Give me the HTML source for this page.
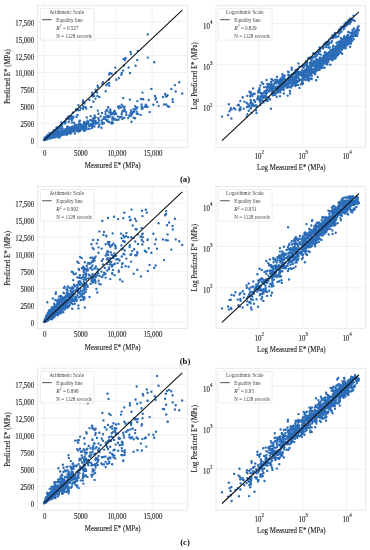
<!DOCTYPE html>
<html><head><meta charset="utf-8"><title>E* predicted vs measured</title>
<style>html,body{margin:0;padding:0;background:#fff;}svg{display:block;font-family:"Liberation Serif","Times New Roman",serif;}</style>
</head><body>
<svg width="370" height="550" viewBox="0 0 370 550">
<rect width="370" height="550" fill="#fff"/>
<path d="M43.90 5.2V147.35M79.95 5.2V147.35M116.00 5.2V147.35M152.05 5.2V147.35M37.5 140.40H187.3M37.5 123.42H187.3M37.5 106.43H187.3M37.5 89.45H187.3M37.5 72.46H187.3M37.5 55.48H187.3M37.5 38.49H187.3M37.5 21.51H187.3" stroke="#ebebeb" stroke-width="0.7" fill="none"/>
<path d="M44.0 140.0h0M182.2 93.5h0M87.4 123.2h0M46.8 138.3h0M48.5 137.3h0M109.2 112.3h0M44.1 139.8h0M96.4 90.5h0M91.4 120.3h0M55.5 137.2h0M48.6 136.0h0M48.0 135.2h0M47.4 136.9h0M54.2 134.3h0M57.7 136.0h0M61.1 133.4h0M172.8 101.9h0M90.6 125.4h0M66.9 129.1h0M164.1 104.4h0M46.6 137.7h0M45.8 139.3h0M66.0 131.8h0M44.5 139.5h0M44.4 139.7h0M58.3 135.1h0M55.4 132.3h0M122.4 119.0h0M67.6 132.9h0M58.3 135.2h0M57.2 132.7h0M47.3 135.8h0M44.1 139.7h0M46.2 138.6h0M74.7 129.7h0M46.4 137.4h0M50.8 134.1h0M44.1 139.6h0M98.4 113.8h0M45.7 138.5h0M47.7 137.1h0M111.0 112.4h0M58.0 129.0h0M102.4 123.7h0M68.7 118.6h0M81.7 127.4h0M44.9 139.3h0M60.2 133.3h0M57.9 129.4h0M108.6 121.9h0M50.5 138.1h0M64.7 121.9h0M44.6 138.8h0M51.6 134.3h0M49.2 136.7h0M45.6 137.8h0M95.4 123.7h0M51.2 136.9h0M154.2 62.2h0M64.0 133.9h0M65.3 133.4h0M68.5 130.5h0M72.7 118.5h0M45.6 139.0h0M54.0 135.3h0M47.1 138.0h0M52.2 135.2h0M45.0 139.0h0M146.3 106.9h0M46.6 137.9h0M72.2 116.7h0M48.6 137.9h0M109.3 85.8h0M71.1 128.1h0M45.4 138.3h0M101.9 113.0h0M133.7 117.8h0M117.9 116.4h0M62.3 133.4h0M45.6 138.5h0M46.2 138.5h0M126.4 114.4h0M61.0 131.8h0M46.0 138.2h0M112.1 121.7h0M68.9 127.4h0M62.3 130.9h0M51.1 137.3h0M52.6 135.3h0M47.1 138.3h0M44.4 139.2h0M109.9 73.0h0M55.4 136.1h0M60.6 128.0h0M49.2 137.8h0M83.2 125.2h0M44.3 139.6h0M50.9 136.8h0M44.3 139.7h0M45.3 139.8h0M145.8 104.7h0M70.6 133.5h0M53.4 135.7h0M58.9 132.0h0M109.0 74.5h0M49.9 137.4h0M64.0 132.5h0M73.6 117.0h0M50.3 137.4h0M58.6 134.8h0M85.6 127.7h0M119.6 106.1h0M45.6 138.5h0M128.6 67.5h0M44.1 139.8h0M83.5 107.1h0M94.2 122.8h0M45.4 138.4h0M52.9 135.1h0M95.2 120.9h0M44.2 139.8h0M67.5 132.5h0M90.6 116.1h0M58.2 128.1h0M79.3 127.9h0M46.8 137.7h0M46.3 137.4h0M50.6 136.4h0M46.0 138.5h0M50.0 134.3h0M135.2 106.2h0M62.6 131.6h0M49.8 137.3h0M47.8 138.5h0M137.2 60.1h0M54.2 135.1h0M155.6 99.6h0M58.4 127.4h0M58.8 135.5h0M115.7 72.6h0M81.9 127.2h0M63.2 134.6h0M53.3 134.9h0M110.4 110.1h0M52.6 132.0h0M124.4 106.6h0M44.7 139.4h0M53.5 136.8h0M58.6 137.5h0M136.7 111.6h0M47.3 137.9h0M93.2 118.3h0M72.7 127.9h0M78.0 109.6h0M67.6 130.6h0M148.8 100.0h0M49.5 135.7h0M52.0 137.4h0M46.4 138.4h0M44.5 139.7h0M46.6 136.7h0M121.8 104.6h0M100.7 116.4h0M45.2 139.3h0M65.2 131.5h0M56.1 135.2h0M64.4 123.2h0M70.8 130.4h0M48.7 136.9h0M142.3 108.7h0M55.3 134.0h0M67.5 130.5h0M68.2 131.4h0M46.1 138.3h0M44.6 139.4h0M52.6 135.3h0M85.4 125.9h0M95.1 120.6h0M79.9 110.1h0M45.2 139.4h0M121.0 107.6h0M92.4 126.3h0M110.3 113.1h0M58.9 133.3h0M121.8 72.9h0M44.5 139.7h0M44.3 139.7h0M44.2 139.8h0M47.4 138.5h0M47.3 137.2h0M46.2 138.4h0M62.1 132.1h0M44.4 139.6h0M64.1 131.6h0M45.8 138.8h0M72.9 129.4h0M44.2 139.5h0M48.8 137.3h0M130.7 112.7h0M60.0 126.3h0M94.4 121.4h0M70.6 129.3h0M65.9 132.1h0M46.2 138.6h0M62.7 131.6h0M44.4 138.6h0M92.3 123.9h0M141.6 104.5h0M104.1 117.1h0M44.5 139.9h0M49.7 137.0h0M49.1 137.8h0M45.2 138.1h0M67.4 131.6h0M91.5 125.7h0M48.9 137.5h0M106.3 85.2h0M91.4 125.0h0M45.3 138.7h0M85.8 128.8h0M111.7 73.7h0M46.3 137.6h0M62.7 128.4h0M68.6 129.1h0M65.7 122.0h0M45.0 138.4h0M71.0 118.2h0M67.9 126.9h0M97.0 92.6h0M92.7 123.1h0M49.3 137.0h0M78.7 110.1h0M107.5 116.2h0M114.6 114.3h0M45.8 138.8h0M44.3 140.0h0M69.8 131.6h0M46.6 139.0h0M61.9 126.0h0M133.6 109.2h0M51.2 138.0h0M47.4 137.2h0M54.8 134.2h0M70.5 129.9h0M45.0 138.1h0M51.3 134.6h0M45.4 139.2h0M71.1 127.4h0M98.5 118.8h0M51.1 136.4h0M50.9 135.9h0M60.0 134.6h0M46.6 138.4h0M47.3 138.3h0M49.4 137.8h0M54.9 135.5h0M44.8 139.6h0M83.5 128.6h0M63.1 131.4h0M48.5 136.0h0M44.8 139.0h0M85.2 130.2h0M45.4 139.0h0M45.4 138.9h0M45.4 138.7h0M44.8 139.3h0M118.7 108.2h0M47.7 137.7h0M48.7 137.4h0M99.0 120.5h0M66.7 129.8h0M46.1 138.5h0M53.7 134.4h0M112.0 113.7h0M51.1 136.7h0M77.2 127.7h0M45.0 138.8h0M79.5 123.9h0M87.5 120.8h0M97.4 95.9h0M72.5 127.3h0M50.9 136.8h0M44.7 138.8h0M58.6 134.1h0M84.2 130.8h0M46.2 137.2h0M47.7 137.6h0M59.8 135.2h0M82.7 126.5h0M115.7 119.5h0M45.3 137.4h0M46.1 137.9h0M91.9 127.9h0M69.2 129.3h0M78.6 128.4h0M174.9 85.1h0M131.1 115.7h0M101.4 127.7h0M87.7 124.1h0M51.9 136.9h0M68.8 116.5h0M46.1 139.2h0M84.6 123.9h0M84.3 103.4h0M78.6 131.6h0M54.2 134.1h0M51.2 137.3h0M53.0 132.7h0M44.4 139.4h0M101.7 120.5h0M60.2 131.5h0M51.6 136.1h0M60.7 134.2h0M78.7 125.2h0M51.3 137.2h0M98.5 127.0h0M123.2 98.1h0M51.5 137.0h0M45.5 138.9h0M84.7 124.2h0M169.1 106.7h0M45.6 139.1h0M77.4 129.0h0M97.3 123.2h0M123.6 59.0h0M45.3 138.1h0M44.9 139.2h0M162.9 97.0h0M45.2 138.5h0M46.0 138.9h0M62.8 132.2h0M54.3 136.6h0M83.1 100.4h0M46.2 137.9h0M121.4 74.7h0M46.7 138.1h0M86.2 124.4h0M44.7 139.5h0M55.8 134.1h0M44.4 139.6h0M48.9 137.9h0M48.9 136.5h0M78.4 105.2h0M54.8 136.1h0M44.6 138.9h0M172.6 99.3h0M113.4 117.4h0M122.1 112.3h0M47.2 138.3h0M51.8 137.0h0M46.8 138.0h0M45.3 137.8h0M44.4 139.1h0M57.6 134.7h0M45.3 137.8h0M46.0 138.3h0M105.7 91.2h0M56.4 133.5h0M46.1 138.1h0M72.0 122.6h0M47.7 137.5h0M59.1 135.4h0M48.1 136.3h0M58.4 134.7h0M67.5 131.6h0M59.8 137.0h0M51.9 135.4h0M90.2 120.2h0M109.1 79.5h0M46.0 137.6h0M45.4 137.6h0M45.2 138.9h0M154.9 96.0h0M132.2 113.8h0M46.9 137.4h0M147.7 34.4h0M46.5 137.8h0M57.8 135.9h0M57.2 134.0h0M121.6 114.2h0M44.4 139.7h0M49.0 136.4h0M64.9 132.6h0M44.7 139.7h0M47.0 138.5h0M55.3 132.5h0M111.2 123.3h0M84.8 124.5h0M98.2 118.1h0M84.8 123.1h0M76.7 130.8h0M103.0 82.3h0M73.3 116.9h0M80.8 108.1h0M48.6 137.9h0M45.9 138.9h0M84.1 122.0h0M45.8 137.7h0M123.2 110.4h0M64.6 133.0h0M49.4 136.8h0M130.0 73.0h0M45.7 138.0h0M58.3 135.7h0M44.9 139.0h0M144.8 106.6h0M62.8 134.3h0M92.8 121.8h0M48.1 137.5h0M92.4 124.2h0M76.1 127.2h0M69.1 119.6h0M136.5 108.6h0M53.6 130.9h0M52.8 135.9h0M74.7 125.8h0M99.5 125.0h0M49.6 138.2h0M71.9 129.1h0M46.5 137.7h0M60.9 125.2h0M86.2 108.5h0M44.7 139.5h0M79.6 124.6h0M44.2 139.8h0M140.6 114.9h0M55.5 130.6h0M52.5 135.9h0M78.5 125.3h0M58.9 133.0h0M80.0 120.6h0M44.9 139.0h0M61.8 130.6h0M61.4 134.6h0M128.1 118.1h0M44.4 139.1h0M54.6 133.4h0M67.8 129.9h0M60.9 132.9h0M44.8 139.1h0M64.3 133.3h0M46.8 136.7h0M46.3 137.7h0M110.6 114.0h0M46.3 137.9h0M54.7 134.0h0M83.1 108.9h0M76.7 110.2h0M61.1 134.8h0M93.4 120.3h0M55.3 131.7h0M66.8 132.2h0M95.9 122.1h0M72.9 127.0h0M68.9 128.4h0M52.4 135.7h0M61.4 135.3h0M51.9 133.6h0M82.1 129.3h0M51.3 137.5h0M55.4 129.9h0M83.9 126.5h0M57.6 133.1h0M49.7 133.0h0M97.7 85.6h0M51.3 136.0h0M101.8 123.3h0M89.2 125.9h0M54.3 136.7h0M77.4 129.1h0M44.4 139.8h0M51.6 137.2h0M105.7 119.4h0M63.1 134.0h0M61.4 122.5h0M71.4 132.4h0M72.9 128.2h0M63.5 132.3h0M53.0 132.3h0M46.1 137.5h0M48.3 137.7h0M48.3 136.9h0M53.5 137.2h0M179.2 82.2h0M50.2 135.8h0M54.3 135.8h0M50.9 137.8h0M63.3 131.7h0M135.1 118.2h0M113.5 119.6h0M51.1 136.1h0M47.7 137.6h0M112.2 118.7h0M57.0 133.2h0M73.8 131.2h0M44.7 139.1h0M107.3 120.2h0M48.9 137.9h0M57.0 133.9h0M46.3 138.7h0M53.0 133.5h0M97.9 87.2h0M97.8 110.6h0M55.8 130.0h0M86.0 122.7h0M54.9 136.6h0M51.0 137.9h0M60.5 127.1h0M46.4 137.7h0M49.0 138.2h0M76.6 116.8h0M86.5 127.1h0M44.6 139.3h0M80.3 125.6h0M95.6 89.8h0M54.2 137.3h0M44.6 138.6h0M73.5 127.7h0M47.2 138.1h0M69.0 132.5h0M51.1 138.1h0M68.4 133.2h0M47.5 137.3h0M56.0 135.4h0M59.0 129.1h0M67.8 132.0h0M46.4 136.9h0M142.7 108.2h0M48.2 137.9h0M48.7 136.1h0M47.5 137.4h0M44.7 139.2h0M53.1 136.6h0M86.7 129.1h0M77.0 130.6h0M46.3 138.4h0M45.4 138.7h0M49.2 137.0h0M86.1 122.9h0M56.6 127.4h0M124.6 110.9h0M70.4 132.1h0M66.8 134.7h0M86.0 126.5h0M83.1 106.1h0M49.9 137.6h0M47.5 137.9h0M53.8 137.0h0M56.7 136.0h0M45.5 138.6h0M54.0 135.6h0M68.7 131.9h0M45.4 138.4h0M45.5 138.7h0M45.9 138.8h0M48.1 136.4h0M142.5 92.6h0M44.3 139.8h0M46.1 137.4h0M45.8 137.5h0M55.8 132.7h0M44.2 139.8h0M54.9 131.0h0M45.8 138.4h0M47.8 137.8h0M90.5 124.2h0M46.1 137.9h0M66.4 118.7h0M52.4 136.5h0M52.9 134.6h0M95.5 98.6h0M45.8 138.9h0M124.8 60.0h0M114.8 111.2h0M71.8 120.3h0M44.5 139.7h0M71.2 127.2h0M64.9 130.9h0M86.8 117.4h0M46.6 138.7h0M137.9 50.9h0M112.7 117.5h0M45.2 139.4h0M49.0 137.8h0M44.4 139.2h0M98.6 122.6h0M121.6 116.9h0M165.1 94.0h0M66.0 129.4h0M71.5 127.3h0M73.0 112.6h0M62.4 132.8h0M137.4 101.1h0M65.6 132.8h0M49.6 137.7h0M58.2 127.9h0M44.2 139.3h0M79.0 130.0h0M74.9 133.5h0M53.0 137.4h0M103.5 123.3h0M83.9 126.0h0M49.7 136.6h0M44.8 139.2h0M45.4 139.0h0M46.1 138.2h0M48.7 138.1h0M54.4 135.6h0M126.4 115.1h0M48.0 134.6h0M116.3 79.7h0M73.2 131.0h0M104.0 123.1h0M52.2 136.8h0M44.0 140.0h0M89.5 126.1h0M47.2 138.3h0M45.5 138.1h0M91.9 95.3h0M73.9 130.7h0M46.6 138.5h0M47.7 138.4h0M131.1 110.4h0M47.7 137.8h0M76.0 125.0h0M45.4 139.0h0M95.1 117.1h0M45.2 138.7h0M58.4 134.1h0M44.4 139.9h0M60.8 135.1h0M102.3 83.7h0M44.9 138.5h0M47.9 137.4h0M85.5 107.1h0M65.6 132.4h0M48.9 136.4h0M67.6 132.3h0M54.7 134.1h0M106.2 116.5h0M48.3 137.6h0M84.3 126.4h0M68.3 129.6h0M81.5 125.4h0M51.2 137.5h0M79.1 121.4h0M75.5 127.8h0M51.6 136.6h0M44.3 139.2h0M143.2 99.2h0M77.5 114.9h0M46.4 137.7h0M80.0 129.6h0M48.0 138.0h0M55.5 137.3h0M105.6 111.8h0M54.4 137.3h0M48.2 136.9h0M48.7 138.0h0M44.8 139.5h0M46.7 138.1h0M47.8 137.4h0M45.9 138.0h0M44.7 138.5h0M55.3 134.7h0M46.6 138.3h0M81.2 128.1h0M124.3 107.8h0M47.8 137.0h0M62.5 133.4h0M57.8 134.5h0M44.8 139.2h0M45.3 138.6h0M112.3 114.0h0M55.8 135.6h0M92.9 125.2h0M44.7 139.0h0M64.4 134.6h0M107.0 120.8h0M107.4 84.1h0M44.1 140.1h0M58.8 134.9h0M50.8 136.2h0M84.7 129.8h0M44.7 137.8h0M47.6 139.0h0M94.6 115.4h0M55.6 132.8h0M54.7 134.3h0M146.8 106.3h0M49.1 137.0h0M44.5 139.7h0M51.7 135.7h0M45.7 139.0h0M44.8 139.2h0M62.2 130.9h0M138.0 113.9h0M63.1 133.1h0M69.4 130.1h0M49.2 138.2h0M62.5 130.4h0M83.4 124.6h0M64.0 134.5h0M92.6 96.2h0M60.8 134.4h0M46.3 138.5h0M63.4 132.3h0M56.8 130.0h0M45.8 137.8h0M66.6 132.6h0M95.5 117.3h0M45.4 138.7h0M60.4 131.9h0M80.5 128.2h0M52.2 136.9h0M47.8 138.4h0M50.9 136.3h0M60.2 131.8h0M74.0 122.6h0M61.5 130.6h0M45.1 138.8h0M95.7 122.5h0M124.8 109.7h0M45.0 139.0h0M47.3 136.5h0M45.9 137.7h0M102.9 122.8h0M120.0 117.3h0M44.5 139.0h0M49.5 135.9h0M46.2 138.3h0M55.5 133.4h0M124.0 65.4h0M44.7 139.3h0M45.9 138.6h0M56.6 127.7h0M58.9 132.5h0M82.3 129.3h0M53.9 136.4h0M45.5 138.9h0M50.2 136.3h0M157.1 102.1h0M83.1 125.8h0M45.2 139.4h0M93.7 122.7h0M48.9 138.3h0M88.4 122.9h0M44.2 139.7h0M108.5 117.5h0M45.8 136.9h0M54.8 134.7h0M71.0 115.9h0M57.9 134.1h0M45.8 138.5h0M45.5 138.1h0M48.1 136.5h0M44.6 139.7h0M46.6 137.2h0M45.4 138.4h0M55.3 133.9h0M50.3 136.6h0M63.7 134.2h0M48.0 138.3h0M44.4 138.9h0M49.5 137.0h0M83.9 129.4h0M47.4 137.5h0M52.3 136.7h0M83.8 130.4h0M52.4 133.8h0M112.9 123.2h0M122.7 111.2h0M48.8 137.4h0M80.8 127.3h0M47.4 137.5h0M45.5 138.3h0M53.9 137.6h0M65.1 123.5h0M129.5 115.0h0M45.6 139.1h0M77.4 129.1h0M55.9 135.2h0M45.4 138.8h0M149.6 112.1h0M75.1 129.7h0M45.3 137.4h0M118.5 119.5h0M45.1 139.5h0M44.9 138.9h0M49.5 136.6h0M130.5 51.9h0M44.4 139.8h0M122.7 106.4h0M65.9 132.9h0M44.7 139.6h0M62.2 133.7h0M55.0 135.5h0M61.9 124.8h0M81.0 124.6h0M73.0 129.3h0M175.7 91.5h0M45.7 138.4h0M94.6 118.1h0M52.6 137.5h0M88.8 128.6h0M114.3 110.9h0M167.8 106.3h0M47.7 137.9h0M54.6 135.6h0M132.7 112.3h0M134.1 111.7h0M51.0 135.4h0M131.5 121.7h0M52.3 135.4h0M51.0 134.0h0M84.1 125.4h0M55.6 135.1h0M54.4 132.9h0M51.5 134.5h0M53.6 137.0h0M45.5 138.6h0M44.6 139.4h0M83.7 123.8h0M61.9 123.5h0M72.2 128.0h0M92.5 124.2h0M46.9 137.9h0M47.0 138.3h0M48.0 138.0h0M48.7 137.5h0M84.8 125.7h0M51.0 137.8h0M49.2 135.7h0M68.3 131.1h0M46.1 138.9h0M45.1 138.3h0M75.3 130.2h0M84.1 102.6h0M48.4 137.4h0M68.3 116.6h0M44.4 139.5h0M52.3 136.9h0M63.0 132.4h0M47.4 135.8h0M50.0 138.5h0M65.7 131.5h0M64.0 131.4h0M45.7 139.0h0M76.6 131.1h0M44.8 138.0h0M147.5 106.9h0M46.4 136.3h0M47.4 137.3h0M46.4 138.1h0M167.1 96.1h0M48.2 137.0h0M65.4 129.2h0M166.1 96.6h0M136.2 107.5h0M44.5 139.5h0M58.8 131.6h0M65.0 130.2h0M76.0 109.3h0M49.6 137.6h0M49.4 136.9h0M44.1 139.9h0M44.4 139.6h0M60.8 134.6h0M44.8 139.3h0M46.4 137.8h0M49.5 135.0h0M44.7 139.2h0M44.3 138.9h0M126.0 112.1h0M53.7 130.4h0M46.4 137.4h0M76.8 126.6h0M44.1 139.8h0M47.2 139.2h0M142.0 107.4h0M116.0 113.9h0M68.3 118.3h0M44.9 139.5h0M49.1 135.3h0M44.3 139.7h0M46.7 137.4h0M44.3 140.0h0M45.3 138.6h0M68.0 131.6h0M45.0 138.6h0M45.7 138.4h0M117.6 120.1h0M49.6 136.3h0M49.5 136.5h0M44.9 138.8h0M91.2 106.9h0M72.7 126.5h0M60.6 133.4h0M66.5 119.2h0M45.0 139.4h0M47.5 136.5h0M63.5 131.0h0M137.3 107.4h0M95.6 91.9h0M68.8 122.1h0M58.6 134.0h0M44.2 139.8h0M114.0 119.1h0M44.7 138.3h0M45.3 138.6h0M74.8 130.0h0M94.5 126.5h0M89.4 100.0h0M54.6 134.6h0M46.0 137.8h0M44.4 139.6h0M103.4 118.9h0M153.4 104.7h0M47.2 138.5h0M107.2 110.5h0M52.2 136.0h0M48.9 135.3h0M57.7 135.3h0M44.1 139.8h0M54.1 130.2h0M46.3 138.4h0M77.4 131.0h0M57.5 135.6h0M107.9 117.1h0M115.7 113.1h0M49.0 137.4h0M48.0 136.7h0M131.1 54.1h0M57.6 133.9h0M45.0 139.0h0M44.5 139.5h0M165.8 95.9h0M63.1 130.7h0M44.6 139.4h0M58.1 133.5h0M57.6 134.8h0M53.7 137.1h0M136.8 113.7h0M135.6 65.7h0M45.3 138.5h0M45.6 137.5h0M52.4 133.3h0M99.3 97.0h0M67.1 128.2h0M79.9 123.8h0M62.9 133.6h0M46.5 138.2h0M95.7 121.1h0M44.2 139.9h0M75.5 127.2h0M46.3 137.5h0M55.6 130.8h0M151.4 88.9h0M60.0 134.0h0M44.6 139.4h0M53.4 136.2h0M70.9 131.4h0M44.6 139.2h0M47.4 137.7h0M44.2 139.3h0M60.1 132.5h0M51.3 133.8h0M57.6 134.7h0M48.4 136.3h0M70.5 130.3h0M45.9 138.8h0M118.8 78.1h0M141.6 106.8h0M56.9 131.9h0M55.3 130.6h0M105.5 114.1h0M48.3 137.3h0M92.6 121.9h0M48.2 137.0h0M78.4 124.6h0M49.6 137.7h0M65.1 130.9h0M125.6 58.0h0M44.6 139.4h0M93.5 123.3h0M60.2 134.5h0M51.2 137.9h0M50.1 135.8h0M44.7 139.2h0M47.5 137.5h0M67.0 126.7h0M45.0 137.5h0M71.9 131.5h0M142.8 99.1h0M155.9 97.9h0M113.5 113.5h0M93.4 101.7h0M46.0 138.3h0M147.8 57.6h0M46.4 137.7h0M108.0 115.8h0M110.3 109.5h0M66.9 129.3h0M58.8 128.5h0M46.4 137.9h0M58.6 130.9h0M48.3 137.1h0M45.3 138.8h0M45.3 139.1h0M92.2 92.8h0M124.3 117.7h0M45.5 138.5h0M44.2 139.7h0M47.6 138.8h0M45.4 138.6h0M46.2 137.8h0M63.5 132.1h0M53.1 137.0h0M53.4 134.3h0M46.5 138.5h0M71.4 132.2h0M48.3 138.2h0M52.0 136.5h0M55.2 133.9h0M118.1 106.8h0M47.2 137.6h0M78.2 130.3h0M48.8 137.8h0M115.1 119.7h0M51.8 136.7h0M57.7 136.4h0M110.2 116.3h0M72.3 127.9h0M45.0 139.1h0M45.4 138.4h0M166.2 104.5h0M44.3 139.9h0M48.6 137.9h0M140.9 99.0h0M44.2 139.5h0M45.8 138.7h0M46.6 137.1h0M44.9 139.2h0M55.7 132.8h0M64.2 131.2h0M49.1 137.6h0M45.1 138.5h0M94.2 95.9h0M92.9 94.6h0M61.7 135.0h0M45.5 138.5h0M60.2 133.6h0M67.6 131.2h0M53.4 136.4h0M106.6 109.9h0M51.7 137.0h0M58.1 135.2h0M45.2 138.2h0M61.8 130.1h0M85.8 123.8h0M80.1 131.0h0M47.5 138.1h0M167.6 95.2h0M78.4 127.4h0M53.2 134.0h0M52.8 137.4h0M88.1 121.7h0M46.0 138.7h0M68.7 127.5h0M78.3 127.7h0M58.4 132.4h0M109.1 82.9h0M55.5 136.6h0M55.3 136.4h0M48.1 137.9h0M123.2 70.6h0M49.0 136.2h0M75.1 124.7h0M52.5 132.5h0M129.4 116.1h0M135.2 109.4h0M44.3 139.7h0M171.3 88.9h0M65.3 131.1h0M44.8 139.0h0M57.2 135.1h0M44.5 139.9h0M60.7 134.4h0M46.1 138.8h0M50.8 136.6h0M48.7 137.3h0M65.1 133.2h0M96.7 122.9h0M129.9 99.6h0M49.4 135.7h0M62.3 134.2h0M44.1 139.8h0M50.9 137.4h0M141.9 109.0h0M45.2 138.5h0M108.2 107.1h0M70.0 133.4h0M48.4 137.5h0M87.9 124.1h0M48.3 137.6h0M115.2 67.6h0M44.8 139.2h0M45.2 138.2h0M83.0 102.4h0M54.4 135.7h0M45.6 138.5h0M58.2 134.0h0M48.5 137.6h0M60.8 131.5h0M82.0 126.2h0M104.8 117.8h0M44.6 139.3h0M64.2 133.7h0M158.6 106.1h0M55.0 136.5h0M86.3 124.1h0M45.0 139.2h0M109.1 122.0h0M63.3 132.0h0M113.3 112.9h0M89.5 128.9h0M108.0 107.5h0M44.6 139.3h0" stroke="#2a6cb8" stroke-width="2.4" stroke-linecap="round" fill="none"/>
<line x1="44.01" y1="140.30" x2="182.24" y2="10.05" stroke="#111" stroke-width="1.1"/>
<rect x="37.5" y="5.2" width="149.8" height="142.2" fill="none" stroke="#e0e0e0" stroke-width="0.7"/>
<g fill="#1a1a1a" stroke="#1a1a1a" stroke-width="0.1"><text transform="translate(44.80,155.73) scale(1,1.045)" font-size="6.9" text-anchor="middle">0</text><text transform="translate(80.85,155.73) scale(1,1.045)" font-size="6.9" text-anchor="middle">5000</text><text transform="translate(116.90,155.73) scale(1,1.045)" font-size="6.9" text-anchor="middle">10,000</text><text transform="translate(152.95,155.73) scale(1,1.045)" font-size="6.9" text-anchor="middle">15,000</text><text transform="translate(34.20,144.43) scale(1,1.045)" font-size="6.9" text-anchor="end">0</text><text transform="translate(34.20,127.45) scale(1,1.045)" font-size="6.9" text-anchor="end">2500</text><text transform="translate(34.20,110.46) scale(1,1.045)" font-size="6.9" text-anchor="end">5000</text><text transform="translate(34.20,93.48) scale(1,1.045)" font-size="6.9" text-anchor="end">7500</text><text transform="translate(34.20,76.49) scale(1,1.045)" font-size="6.9" text-anchor="end">10,000</text><text transform="translate(34.20,59.51) scale(1,1.045)" font-size="6.9" text-anchor="end">12,500</text><text transform="translate(34.20,42.52) scale(1,1.045)" font-size="6.9" text-anchor="end">15,000</text><text transform="translate(34.20,25.54) scale(1,1.045)" font-size="6.9" text-anchor="end">17,500</text><text transform="translate(112.70,168.33) scale(1,1.045)" font-size="6.9" text-anchor="middle">Measured E* (MPa)</text><text transform="translate(9.63,76.60) rotate(-90) scale(1,1.045)" font-size="6.9" text-anchor="middle">Predicted E* (MPa)</text></g>
<path d="M258.65 5.3V147.2M216.0 106.15H365.4M302.58 5.3V147.2M216.0 64.85H365.4M346.51 5.3V147.2M216.0 23.55H365.4" stroke="#ebebeb" stroke-width="0.7" fill="none"/>
<path d="M222.0 116.6h0M358.9 30.2h0M336.9 48.2h0M285.3 85.8h0M294.2 78.9h0M344.6 39.4h0M230.8 108.1h0M340.5 29.1h0M338.6 45.4h0M311.6 78.2h0M294.5 72.5h0M291.7 69.7h0M288.9 76.9h0M309.4 66.8h0M314.9 72.8h0M319.1 64.2h0M357.6 33.7h0M338.2 50.6h0M324.7 55.7h0M356.3 34.9h0M284.0 81.7h0M276.7 96.8h0M324.0 60.7h0M254.5 100.5h0M251.6 105.8h0M315.8 69.3h0M311.4 61.6h0M348.1 44.3h0M325.3 63.1h0M315.8 69.7h0M314.2 62.5h0M288.0 71.8h0M237.7 105.2h0M281.0 88.6h0M330.3 56.7h0M282.1 79.2h0M301.8 66.2h0M228.8 104.2h0M341.2 40.4h0M275.8 87.3h0M290.4 77.9h0M345.1 39.4h0M315.4 55.6h0M342.5 48.7h0M326.1 43.9h0M334.2 53.2h0M265.4 97.6h0M318.1 64.1h0M315.2 56.2h0M344.4 46.8h0M300.9 84.3h0M322.8 46.9h0M258.6 90.3h0M303.7 66.7h0M296.8 75.6h0M275.2 82.0h0M340.1 48.7h0M302.9 76.5h0M354.6 21.0h0M322.2 65.7h0M323.4 64.4h0M326.0 58.1h0M329.0 43.8h0M275.3 93.2h0M309.0 69.8h0M287.0 83.5h0M305.2 69.8h0M266.4 93.1h0M353.2 36.2h0M284.0 82.9h0M328.7 42.5h0M294.2 82.7h0M344.6 27.5h0M327.9 54.2h0M272.4 86.1h0M342.4 39.8h0M350.7 43.3h0M347.0 42.2h0M320.5 64.4h0M274.5 87.4h0M281.1 87.2h0M349.1 40.8h0M319.0 60.7h0M279.5 84.9h0M345.4 46.7h0M326.3 53.2h0M320.5 58.7h0M302.5 79.0h0M306.1 70.0h0M287.0 85.8h0M252.5 95.8h0M344.8 23.7h0M311.6 73.0h0M318.6 54.1h0M296.7 82.2h0M334.9 50.4h0M246.6 102.8h0M302.1 76.4h0M249.3 105.8h0M270.9 108.8h0M353.1 35.1h0M327.5 64.4h0M307.8 71.3h0M316.6 61.1h0M344.5 24.1h0M299.1 79.5h0M322.2 62.1h0M329.6 42.6h0M300.3 79.8h0M316.2 68.4h0M336.0 53.7h0M347.4 35.8h0M275.3 88.0h0M349.6 22.3h0M230.7 109.6h0M335.1 36.3h0M339.6 47.8h0M273.2 86.6h0M306.9 69.5h0M340.0 45.9h0M239.7 109.0h0M325.2 62.1h0M338.2 42.0h0M315.7 54.2h0M332.9 53.9h0M285.4 81.7h0M281.8 79.2h0M301.1 74.5h0M279.3 87.9h0M299.3 66.8h0M351.0 35.9h0M320.8 60.3h0M298.7 78.7h0M290.9 87.6h0M351.4 20.5h0M309.4 69.5h0M354.9 32.7h0M315.9 53.1h0M316.4 70.7h0M346.4 23.6h0M334.3 52.9h0M321.4 67.8h0M307.7 68.6h0M345.0 38.0h0M306.2 61.1h0M348.6 36.1h0M260.8 99.7h0M308.0 76.1h0M316.2 80.2h0M351.3 39.0h0M288.4 82.6h0M339.3 43.7h0M329.0 53.9h0M332.2 37.8h0M325.3 58.2h0M353.7 32.9h0M297.8 71.5h0M304.8 79.5h0M282.4 86.6h0M256.5 106.9h0M283.7 75.8h0M348.0 35.0h0M342.0 42.2h0M269.2 97.4h0M323.3 59.9h0M312.6 69.7h0M322.5 48.2h0M327.7 57.9h0M294.9 76.9h0M352.4 37.2h0M311.4 66.0h0M325.2 58.2h0M325.8 59.8h0M279.9 86.1h0M259.2 99.8h0M306.2 70.1h0M335.9 51.3h0M340.0 45.7h0M333.3 38.0h0M269.3 98.8h0M347.8 36.6h0M339.0 51.8h0M344.9 39.9h0M316.6 64.0h0M348.0 23.7h0M255.3 105.4h0M249.2 105.6h0M243.8 108.6h0M288.6 87.3h0M288.1 78.3h0M280.4 86.5h0M320.3 61.3h0M252.9 103.9h0M322.2 60.2h0M277.5 90.6h0M329.1 56.1h0M244.3 101.6h0M295.4 78.9h0M350.1 39.7h0M317.9 51.7h0M339.7 46.4h0M327.6 56.0h0M323.8 61.2h0M280.9 88.9h0M320.9 60.3h0M253.1 88.4h0M338.9 48.9h0M352.3 35.0h0M343.1 42.7h0M256.5 113.1h0M298.5 77.4h0M296.2 82.1h0M269.2 84.2h0M325.1 60.2h0M338.6 51.0h0M295.7 80.0h0M343.8 27.3h0M338.6 50.2h0M272.0 89.8h0M336.2 55.2h0M345.3 23.9h0M281.7 80.9h0M320.8 54.6h0M326.0 55.8h0M323.7 47.0h0M266.3 87.0h0M327.8 43.6h0M325.5 52.5h0M340.7 29.9h0M339.1 48.1h0M297.2 77.2h0M332.6 38.1h0M344.1 42.1h0M346.1 40.7h0M276.8 91.0h0M247.4 114.3h0M327.0 60.3h0M283.9 93.5h0M320.0 51.4h0M350.7 37.5h0M302.9 83.8h0M288.6 78.4h0M310.5 66.6h0M327.5 57.0h0M267.2 84.0h0M303.0 67.6h0M272.7 95.3h0M327.9 53.1h0M341.2 44.1h0M302.6 74.5h0M302.1 72.4h0M318.0 67.6h0M284.0 86.4h0M288.0 85.9h0M297.5 81.8h0M310.6 70.7h0M263.5 102.4h0M335.1 55.0h0M321.3 59.8h0M294.1 72.8h0M262.7 93.4h0M335.9 57.5h0M272.3 93.4h0M272.6 92.1h0M272.2 89.3h0M263.4 97.9h0M347.2 37.0h0M290.6 81.2h0M294.9 79.2h0M341.4 45.6h0M324.6 56.9h0M280.4 87.7h0M308.4 67.0h0M345.4 40.3h0M302.4 75.8h0M331.7 53.7h0M266.4 90.3h0M333.0 48.9h0M336.9 45.8h0M340.8 31.1h0M328.8 53.0h0M302.0 76.1h0M259.8 90.6h0M316.2 66.1h0M335.4 58.6h0M280.8 78.5h0M290.3 80.5h0M317.7 69.6h0M334.7 52.1h0M346.4 44.7h0M271.4 79.2h0M280.0 83.1h0M338.8 53.9h0M326.5 56.0h0M332.5 54.7h0M357.9 27.3h0M350.1 41.7h0M342.2 53.7h0M337.0 49.1h0M304.5 76.5h0M326.2 42.3h0M280.0 96.2h0M335.6 48.9h0M335.4 34.4h0M332.6 60.3h0M309.4 66.1h0M302.7 78.9h0M307.0 62.7h0M250.7 100.0h0M342.3 45.6h0M318.2 60.0h0M303.7 73.2h0M318.7 66.5h0M332.6 50.4h0M303.1 78.3h0M341.2 52.7h0M348.3 32.0h0M303.7 77.1h0M273.3 92.0h0M335.7 49.2h0M357.0 36.1h0M274.9 94.9h0M331.9 55.6h0M340.8 48.2h0M348.4 20.3h0M271.0 84.4h0M265.5 96.1h0M356.1 31.6h0M269.9 87.8h0M279.0 91.4h0M320.9 61.5h0M309.5 75.2h0M334.9 33.0h0M280.8 82.9h0M347.9 24.1h0M284.2 84.5h0M336.4 49.5h0M260.5 100.7h0M312.1 66.1h0M250.3 103.1h0M295.7 82.8h0M295.6 74.7h0M332.4 35.3h0M310.4 73.0h0M258.0 92.3h0M357.6 32.6h0M345.8 43.0h0M348.1 39.4h0M287.9 85.6h0M304.4 77.0h0M285.5 83.6h0M271.3 82.2h0M250.5 94.4h0M314.8 68.1h0M271.0 82.0h0M278.9 86.3h0M343.6 29.3h0M313.1 64.7h0M279.9 84.1h0M328.5 47.6h0M290.2 79.9h0M316.9 70.4h0M292.2 74.1h0M315.9 67.9h0M325.2 60.3h0M317.7 77.0h0M304.5 70.4h0M338.1 45.3h0M344.6 25.5h0M279.3 81.0h0M273.1 80.4h0M269.3 91.4h0M354.7 31.2h0M350.4 40.4h0M285.9 79.4h0M353.5 15.6h0M283.0 82.1h0M315.1 72.4h0M314.3 66.0h0M347.9 40.6h0M253.4 105.8h0M295.9 74.5h0M323.0 62.4h0M260.3 105.1h0M286.7 87.8h0M311.3 62.2h0M345.2 48.3h0M335.7 49.6h0M341.1 43.5h0M335.7 48.0h0M331.5 58.6h0M342.7 26.4h0M329.4 42.6h0M333.7 36.9h0M294.4 82.5h0M277.7 92.5h0M335.4 47.0h0M277.4 81.3h0M348.3 38.2h0M322.7 63.4h0M297.5 76.4h0M349.9 23.7h0M275.9 83.4h0M315.8 71.5h0M265.4 93.0h0M352.9 36.1h0M321.0 66.8h0M339.1 46.8h0M292.1 80.2h0M338.9 49.3h0M331.1 52.9h0M326.4 44.8h0M351.3 37.2h0M308.3 58.8h0M306.5 72.2h0M330.3 51.1h0M341.6 50.1h0M298.1 85.1h0M328.5 55.7h0M283.2 81.7h0M319.0 50.4h0M336.4 37.1h0M260.0 101.6h0M333.1 49.7h0M240.6 109.5h0M352.1 41.1h0M311.7 58.4h0M305.9 72.4h0M332.5 50.5h0M316.6 63.4h0M333.3 45.7h0M264.1 93.0h0M319.9 58.3h0M319.5 67.6h0M349.5 43.6h0M253.1 94.0h0M310.2 64.3h0M325.4 57.0h0M318.9 63.0h0M262.0 95.0h0M322.4 63.9h0M284.9 75.6h0M281.5 81.5h0M345.0 40.5h0M281.8 82.8h0M310.3 66.0h0M334.9 37.3h0M331.5 38.1h0M319.1 68.5h0M339.4 45.4h0M311.4 60.3h0M324.6 61.6h0M340.3 47.1h0M329.2 52.7h0M326.3 54.6h0M305.6 71.3h0M319.5 69.9h0M304.6 64.7h0M334.4 56.1h0M303.0 79.8h0M311.5 57.1h0M335.3 52.0h0M314.8 63.7h0M298.4 63.4h0M340.9 27.4h0M303.0 72.8h0M342.3 48.3h0M337.6 51.3h0M309.6 75.6h0M331.9 55.7h0M251.1 108.1h0M304.0 78.3h0M343.6 44.6h0M321.3 66.1h0M319.5 47.5h0M328.1 62.0h0M329.1 54.4h0M321.6 61.6h0M307.1 61.8h0M279.9 80.4h0M293.3 81.5h0M293.4 76.7h0M308.1 78.5h0M358.5 26.3h0M300.0 71.9h0M309.7 71.9h0M302.0 81.9h0M321.5 60.5h0M351.0 43.6h0M345.8 44.8h0M302.6 73.0h0M290.3 80.7h0M345.5 44.0h0M313.9 63.7h0M329.7 59.4h0M261.8 94.5h0M344.1 45.3h0M295.6 83.0h0M314.0 65.7h0M281.8 89.5h0M307.0 64.6h0M341.0 27.9h0M341.0 38.3h0M312.1 57.2h0M336.3 47.7h0M310.7 75.4h0M302.2 82.6h0M318.5 52.8h0M282.2 81.1h0M296.1 84.8h0M331.4 42.5h0M336.5 52.9h0M258.0 97.7h0M333.5 50.9h0M340.2 28.9h0M309.4 78.9h0M259.4 89.0h0M329.5 53.6h0M287.8 84.0h0M326.4 62.1h0M302.6 84.1h0M325.9 63.8h0M289.3 78.8h0M312.4 70.4h0M316.7 55.7h0M325.4 61.0h0M282.4 76.6h0M352.5 37.0h0M292.9 82.8h0M294.9 73.0h0M289.1 79.3h0M260.5 96.5h0M307.3 75.5h0M336.6 55.6h0M331.6 58.3h0M281.5 87.2h0M273.2 90.1h0M296.6 77.0h0M336.3 47.9h0M313.4 53.2h0M348.7 38.5h0M327.4 61.2h0M324.6 67.8h0M336.2 52.0h0M334.9 35.8h0M299.1 80.7h0M289.1 82.8h0M308.7 77.1h0M313.5 72.7h0M273.9 89.1h0M309.1 70.9h0M326.1 60.9h0M273.0 86.5h0M273.4 90.0h0M278.5 91.3h0M292.3 74.4h0M352.5 29.9h0M247.0 107.0h0M279.9 79.8h0M277.3 80.0h0M312.2 62.7h0M240.3 109.5h0M310.7 59.1h0M277.0 86.4h0M290.7 82.1h0M338.2 49.2h0M279.9 82.6h0M324.3 44.0h0M305.6 74.9h0M306.8 67.6h0M340.1 32.3h0M276.8 92.4h0M348.7 20.5h0M346.2 38.7h0M328.4 45.4h0M256.1 105.5h0M328.0 52.9h0M323.0 58.9h0M336.6 43.0h0M283.8 89.7h0M351.6 18.6h0M345.6 43.0h0M269.5 99.2h0M295.9 82.3h0M250.3 96.5h0M341.2 47.6h0M347.9 42.6h0M356.4 30.4h0M323.9 56.3h0M328.2 53.1h0M329.2 39.6h0M320.5 62.9h0M351.5 33.4h0M323.6 62.9h0M298.2 81.5h0M315.6 53.9h0M242.8 97.6h0M332.8 57.3h0M330.4 64.7h0M307.1 79.3h0M342.9 48.3h0M335.3 51.4h0M298.3 75.2h0M262.7 96.1h0M272.4 92.9h0M280.0 84.8h0M294.6 83.9h0M309.7 71.2h0M349.1 41.2h0M291.7 67.8h0M346.6 25.6h0M329.3 59.0h0M343.0 48.1h0M305.3 76.3h0M228.1 115.0h0M337.8 51.5h0M287.8 85.5h0M274.0 84.1h0M338.8 30.9h0M329.8 58.4h0M283.6 87.8h0M290.4 86.6h0M350.1 38.2h0M290.5 82.0h0M331.1 50.2h0M272.0 92.7h0M340.0 42.8h0M270.1 89.4h0M315.9 66.2h0M251.4 112.9h0M318.8 69.2h0M342.5 26.8h0M264.0 87.3h0M291.2 79.7h0M336.0 36.3h0M323.6 61.9h0M295.6 74.2h0M325.3 61.6h0M310.3 66.3h0M343.7 42.3h0M293.4 81.0h0M335.5 51.9h0M325.8 56.5h0M334.1 50.6h0M302.7 80.1h0M332.9 46.4h0M330.8 53.7h0M303.7 75.5h0M247.3 95.9h0M352.6 32.5h0M332.0 41.1h0M282.7 81.6h0M333.3 56.5h0M291.7 83.5h0M311.7 79.1h0M343.5 39.0h0M309.7 79.2h0M292.8 76.9h0M294.8 83.2h0M262.6 100.5h0M284.5 84.2h0M290.8 79.6h0M278.4 83.3h0M259.5 88.1h0M311.4 68.1h0M283.9 85.8h0M334.0 54.2h0M348.6 36.7h0M291.0 77.1h0M320.7 64.4h0M315.1 67.2h0M262.2 96.0h0M271.3 89.0h0M345.5 40.5h0M312.2 71.2h0M339.2 50.4h0M260.3 92.9h0M322.5 67.8h0M344.0 45.8h0M344.1 26.9h0M231.4 118.5h0M316.4 68.7h0M301.8 73.6h0M335.6 56.8h0M261.8 82.4h0M290.1 93.5h0M339.8 41.5h0M311.7 62.8h0M310.2 66.6h0M353.3 35.9h0M296.4 77.1h0M253.8 106.1h0M304.2 71.5h0M275.7 93.3h0M263.5 96.2h0M320.3 58.9h0M351.6 40.4h0M321.3 63.5h0M326.7 57.3h0M296.8 84.8h0M320.6 58.0h0M335.0 49.8h0M322.1 67.4h0M339.0 31.3h0M318.9 67.1h0M281.8 87.9h0M321.6 61.6h0M313.7 57.3h0M277.5 82.0h0M324.5 62.4h0M340.1 42.9h0M272.9 89.3h0M318.4 60.8h0M333.6 54.3h0M305.3 76.6h0M290.7 86.4h0M302.1 74.0h0M318.1 60.7h0M329.8 47.6h0M319.6 58.2h0M268.3 90.6h0M340.2 47.5h0M348.7 37.8h0M267.2 92.6h0M288.2 74.8h0M278.5 81.6h0M342.7 47.8h0M347.5 42.9h0M254.6 93.7h0M297.8 72.4h0M281.1 86.1h0M311.7 64.4h0M348.5 21.8h0M261.1 97.8h0M278.2 88.7h0M313.3 53.7h0M316.6 62.1h0M334.5 56.1h0M308.7 74.2h0M273.8 92.4h0M300.1 74.0h0M355.1 33.8h0M334.9 51.1h0M269.9 99.4h0M339.4 47.6h0M295.4 86.0h0M337.3 47.9h0M238.5 104.8h0M344.4 43.1h0M277.0 76.8h0M310.4 68.1h0M327.9 41.8h0M315.2 66.2h0M277.4 87.8h0M273.5 83.9h0M292.4 75.0h0M256.9 106.1h0M284.2 78.3h0M272.1 86.9h0M311.3 65.6h0M300.4 75.1h0M321.9 66.5h0M292.0 86.0h0M250.9 92.5h0M297.7 77.1h0M335.2 56.2h0M289.0 79.8h0M305.5 75.8h0M335.2 57.9h0M305.7 65.4h0M345.7 48.2h0M348.2 38.7h0M295.4 79.3h0M333.7 53.1h0M288.7 80.3h0M273.6 85.7h0M308.7 80.8h0M323.2 48.5h0M349.8 41.2h0M274.6 94.5h0M331.9 55.8h0M312.3 69.5h0M272.4 90.7h0M353.8 39.2h0M330.6 56.7h0M271.9 79.4h0M347.2 44.7h0M267.6 101.0h0M265.6 92.1h0M297.7 75.5h0M350.0 18.8h0M250.5 108.4h0M348.2 36.0h0M323.9 63.2h0M260.4 102.7h0M320.4 65.2h0M310.7 70.6h0M320.0 49.9h0M333.8 49.7h0M329.2 56.1h0M358.0 29.4h0M276.1 87.1h0M339.8 43.5h0M306.1 79.9h0M337.5 55.0h0M346.0 38.5h0M356.8 35.9h0M290.2 82.5h0M310.2 71.0h0M350.5 39.4h0M350.8 39.0h0M302.2 70.2h0M350.2 46.7h0M305.6 70.2h0M302.4 66.1h0M335.4 50.7h0M311.9 69.4h0M309.7 63.0h0M303.6 67.4h0M308.3 77.3h0M273.6 88.3h0M259.0 98.6h0M335.2 48.8h0M320.1 48.5h0M328.7 54.0h0M339.0 49.3h0M285.9 82.5h0M286.3 85.8h0M291.6 83.7h0M294.6 80.1h0M335.7 51.0h0M302.3 81.8h0M296.8 71.3h0M325.9 59.1h0M280.3 92.3h0M268.2 86.3h0M330.7 57.6h0M335.3 34.1h0M293.8 79.8h0M325.8 42.4h0M251.0 101.4h0M305.4 76.8h0M321.2 62.0h0M288.7 71.9h0M299.5 87.9h0M323.7 60.0h0M322.1 59.7h0M275.8 92.9h0M331.4 59.3h0M263.2 83.9h0M353.4 36.3h0M282.3 74.1h0M288.7 79.0h0M282.1 84.1h0M356.7 31.2h0M292.6 77.1h0M323.4 55.9h0M356.6 31.4h0M351.2 36.5h0M254.0 100.3h0M316.4 60.3h0M323.1 57.6h0M331.1 37.6h0M298.2 81.0h0M297.3 76.9h0M229.5 111.2h0M251.5 104.1h0M318.8 67.8h0M262.3 97.0h0M282.4 82.3h0M297.9 68.9h0M261.2 96.3h0M249.5 91.7h0M349.0 39.3h0M308.5 58.0h0M282.7 79.3h0M331.6 52.1h0M235.4 109.4h0M287.7 95.6h0M352.4 36.5h0M346.5 40.5h0M325.8 43.7h0M265.7 100.6h0M296.2 69.9h0M248.1 104.5h0M284.5 79.7h0M246.8 116.6h0M271.5 89.1h0M325.6 60.1h0M267.1 89.1h0M276.0 87.1h0M346.9 45.2h0M298.1 73.7h0M297.9 75.0h0M264.5 91.2h0M338.5 36.2h0M329.0 52.1h0M318.6 64.2h0M324.4 44.5h0M267.1 99.7h0M289.5 74.9h0M321.6 59.0h0M351.5 36.5h0M340.1 29.6h0M326.2 47.1h0M316.2 65.9h0M240.4 107.3h0M346.0 44.4h0M260.4 85.5h0M272.0 88.4h0M330.3 57.3h0M339.8 52.0h0M337.7 32.9h0M310.1 67.5h0M279.0 82.3h0M251.5 103.3h0M342.9 44.2h0M354.5 35.1h0M287.6 87.4h0M344.0 38.3h0M305.3 72.7h0M295.5 70.1h0M315.0 70.1h0M234.1 108.2h0M309.2 57.6h0M282.0 86.9h0M331.9 58.9h0M314.7 71.1h0M344.2 42.8h0M346.4 39.9h0M296.1 79.3h0M291.9 75.7h0M350.1 19.3h0M314.9 65.7h0M266.4 92.9h0M255.1 101.9h0M356.5 31.2h0M321.3 58.5h0M257.4 98.5h0M315.5 64.7h0M314.9 68.4h0M308.5 78.0h0M351.4 40.3h0M351.1 21.8h0M271.3 87.7h0M275.4 79.8h0M305.8 64.2h0M341.5 31.6h0M324.9 54.3h0M333.2 48.8h0M321.0 64.7h0M283.3 84.8h0M340.2 46.2h0M239.5 110.4h0M330.8 52.9h0M281.3 79.8h0M311.9 58.6h0M354.1 28.5h0M317.9 65.9h0M258.1 99.4h0M307.9 73.4h0M327.7 59.8h0M258.0 96.2h0M288.6 81.6h0M242.6 97.2h0M318.0 62.2h0M303.1 65.3h0M314.8 68.0h0M293.7 74.0h0M327.5 57.7h0M278.5 90.5h0M347.2 25.1h0M352.3 36.2h0M313.9 60.8h0M311.3 58.4h0M343.5 40.6h0M293.0 78.9h0M339.0 46.8h0M292.7 77.0h0M332.5 49.8h0M298.0 81.4h0M323.2 58.7h0M348.9 20.1h0M257.4 99.3h0M339.4 48.3h0M318.2 67.3h0M302.8 82.8h0M299.8 72.0h0M260.9 96.1h0M289.3 80.0h0M324.8 52.3h0M266.6 80.0h0M328.5 59.9h0M352.5 32.5h0M354.9 32.0h0M345.8 40.2h0M339.3 33.6h0M279.1 86.1h0M353.5 20.0h0M282.4 81.3h0M344.3 41.8h0M345.0 37.7h0M324.7 56.0h0M316.4 54.8h0M282.1 82.9h0M316.2 58.7h0M293.1 77.6h0M271.4 90.3h0M271.8 94.0h0M338.9 29.9h0M348.6 43.2h0M273.9 88.0h0M238.9 105.1h0M289.9 91.0h0M272.8 89.0h0M280.6 82.0h0M321.6 61.2h0M307.2 77.0h0M307.9 66.8h0M282.8 87.6h0M328.1 61.5h0M293.0 85.1h0M304.9 74.7h0M311.2 65.6h0M347.1 36.2h0M287.9 80.9h0M332.4 57.8h0M295.2 82.2h0M346.3 44.9h0M304.4 75.8h0M315.0 74.3h0M344.9 42.1h0M328.7 54.0h0M266.0 94.1h0M273.2 86.6h0M356.6 35.0h0M248.7 110.7h0M294.3 82.5h0M352.2 32.4h0M240.3 101.1h0M276.8 89.4h0M283.8 77.8h0M264.4 95.9h0M312.0 62.8h0M322.4 59.4h0M296.2 80.9h0M268.5 87.6h0M339.7 31.1h0M339.1 30.6h0M319.9 69.0h0M273.3 87.6h0M318.2 64.7h0M325.3 59.3h0M307.8 74.2h0M343.8 37.9h0M304.0 77.3h0M315.5 69.6h0M269.5 84.7h0M320.0 57.4h0M336.1 48.8h0M333.4 59.0h0M289.1 84.3h0M356.8 30.8h0M332.5 53.2h0M307.4 65.9h0M306.5 79.5h0M337.2 46.6h0M278.8 89.2h0M326.1 53.4h0M332.4 53.6h0M315.9 61.9h0M344.6 26.6h0M311.7 75.5h0M311.3 74.5h0M292.4 83.1h0M348.3 23.1h0M296.0 73.3h0M330.5 49.9h0M305.9 62.2h0M349.8 42.0h0M351.0 37.6h0M249.1 106.5h0M357.4 28.5h0M323.4 59.3h0M261.9 93.3h0M314.2 69.2h0M256.1 110.4h0M318.7 67.2h0M280.1 91.0h0M301.7 75.1h0M294.7 78.9h0M323.1 63.8h0M340.6 47.8h0M349.9 32.7h0M297.4 71.4h0M320.5 66.4h0M231.6 109.3h0M302.1 79.8h0M352.4 37.4h0M270.3 87.9h0M344.3 36.3h0M327.1 64.4h0M293.5 79.9h0M337.1 49.2h0M292.9 80.4h0M346.3 22.3h0M263.7 96.5h0M270.3 85.5h0M334.8 34.0h0M309.8 71.4h0M274.8 88.1h0M315.7 65.9h0M293.8 80.5h0M318.8 60.0h0M334.3 51.7h0M343.3 43.3h0M258.6 98.2h0M322.3 65.2h0M355.4 35.8h0M310.8 74.6h0M336.4 49.2h0M266.5 96.6h0M344.6 47.0h0M321.5 61.0h0M345.8 39.8h0M337.8 55.4h0M344.3 36.6h0M258.1 98.1h0" stroke="#2a6cb8" stroke-width="2.4" stroke-linecap="round" fill="none"/>
<line x1="222.01" y1="140.59" x2="358.94" y2="11.86" stroke="#111" stroke-width="1.1"/>
<rect x="216.0" y="5.3" width="149.4" height="141.9" fill="none" stroke="#e0e0e0" stroke-width="0.7"/>
<g fill="#1a1a1a" stroke="#1a1a1a" stroke-width="0.1"><text transform="translate(259.25,159.28) scale(1,1.045)" font-size="6.9" text-anchor="middle">10<tspan font-size="5.0" dy="-4.6">2</tspan></text><text transform="translate(212.50,111.38) scale(1,1.045)" font-size="6.9" text-anchor="end">10<tspan font-size="5.0" dy="-4.6">2</tspan></text><text transform="translate(303.18,159.28) scale(1,1.045)" font-size="6.9" text-anchor="middle">10<tspan font-size="5.0" dy="-4.6">3</tspan></text><text transform="translate(212.50,70.08) scale(1,1.045)" font-size="6.9" text-anchor="end">10<tspan font-size="5.0" dy="-4.6">3</tspan></text><text transform="translate(347.11,159.28) scale(1,1.045)" font-size="6.9" text-anchor="middle">10<tspan font-size="5.0" dy="-4.6">4</tspan></text><text transform="translate(212.50,28.78) scale(1,1.045)" font-size="6.9" text-anchor="end">10<tspan font-size="5.0" dy="-4.6">4</tspan></text><text transform="translate(291.30,170.13) scale(1,1.045)" font-size="6.9" text-anchor="middle">Log Measured E* (MPa)</text><text transform="translate(196.63,75.90) rotate(-90) scale(1,1.045)" font-size="6.9" text-anchor="middle">Log Predicted E* (MPa)</text></g>
<rect x="40.4" y="8.4" width="53.8" height="31.7" rx="1" fill="#fff" fill-opacity="0.85" stroke="#e0e0e0" stroke-width="0.6"/>
<line x1="42.2" y1="19.70" x2="51.7" y2="19.70" stroke="#222" stroke-width="0.8"/>
<g fill="#444"><text transform="translate(66.80,14.12) scale(1,1.1)" font-size="5.1" text-anchor="middle">Arithmetic Scale</text><text transform="translate(56.30,21.92) scale(1,1.1)" font-size="5.1">Equality line</text><text transform="translate(56.30,30.12) scale(1,1.1)" font-size="5.1"><tspan font-style="italic" font-size="5.6">R</tspan><tspan font-size="3.8" dy="-2.4">2</tspan><tspan dy="2.4"> = 0.527</tspan></text><text transform="translate(56.30,38.12) scale(1,1.1)" font-size="5.1">N = 1128 records</text></g>
<rect x="218.4" y="8.4" width="53.8" height="31.7" rx="1" fill="#fff" fill-opacity="0.85" stroke="#e0e0e0" stroke-width="0.6"/>
<line x1="220.2" y1="19.70" x2="229.7" y2="19.70" stroke="#222" stroke-width="0.8"/>
<g fill="#444"><text transform="translate(244.80,14.12) scale(1,1.1)" font-size="5.1" text-anchor="middle">Logarithmic Scale</text><text transform="translate(234.30,21.92) scale(1,1.1)" font-size="5.1">Equality line</text><text transform="translate(234.30,30.12) scale(1,1.1)" font-size="5.1"><tspan font-style="italic" font-size="5.6">R</tspan><tspan font-size="3.8" dy="-2.4">2</tspan><tspan dy="2.4"> = 0.829</tspan></text><text transform="translate(234.30,38.12) scale(1,1.1)" font-size="5.1">N = 1128 records</text></g>
<text x="185.0" y="182.10" font-size="8.7" font-weight="bold" text-anchor="middle" fill="#111">(a)</text>
<path d="M43.90 186.25V328.4M79.95 186.25V328.4M116.00 186.25V328.4M152.05 186.25V328.4M37.5 322.15H187.3M37.5 305.16H187.3M37.5 288.18H187.3M37.5 271.19H187.3M37.5 254.21H187.3M37.5 237.22H187.3M37.5 220.24H187.3M37.5 203.25H187.3" stroke="#ebebeb" stroke-width="0.7" fill="none"/>
<path d="M44.0 321.9h0M182.2 244.9h0M87.4 268.5h0M46.8 319.4h0M48.5 317.0h0M109.2 261.9h0M44.1 321.9h0M96.4 289.0h0M91.4 267.3h0M55.5 315.1h0M48.6 318.9h0M48.0 318.2h0M47.4 319.3h0M54.2 311.6h0M57.7 305.2h0M61.1 305.1h0M172.8 229.4h0M90.6 276.2h0M66.9 295.5h0M164.1 260.1h0M46.6 318.8h0M45.8 320.9h0M66.0 307.2h0M44.5 321.6h0M44.4 321.7h0M58.3 306.4h0M55.4 307.3h0M122.4 281.4h0M67.6 300.4h0M58.3 299.2h0M57.2 306.4h0M47.3 315.6h0M44.1 321.8h0M46.2 320.9h0M74.7 300.7h0M46.4 318.7h0M50.8 312.1h0M44.1 321.9h0M98.4 273.4h0M45.7 320.2h0M47.7 320.1h0M111.0 264.6h0M58.0 301.6h0M102.4 221.0h0M68.7 299.6h0M81.7 258.1h0M44.9 321.4h0M60.2 310.0h0M57.9 315.2h0M108.6 243.5h0M50.5 316.2h0M64.7 286.8h0M44.6 321.4h0M51.6 314.0h0M49.2 319.3h0M45.6 318.8h0M95.4 277.1h0M51.2 315.2h0M154.2 267.9h0M64.0 298.4h0M65.3 296.5h0M68.5 302.5h0M72.7 293.9h0M45.6 320.1h0M54.0 309.1h0M47.1 318.6h0M52.2 307.2h0M45.0 321.2h0M146.3 252.0h0M46.6 319.8h0M72.2 308.7h0M48.6 318.4h0M109.3 241.9h0M71.1 294.5h0M45.4 321.1h0M101.9 260.9h0M133.7 273.7h0M117.9 259.1h0M62.3 302.5h0M45.6 319.9h0M46.2 320.4h0M126.4 233.0h0M61.0 296.0h0M46.0 320.3h0M112.1 245.3h0M68.9 306.6h0M62.3 311.9h0M51.1 313.0h0M52.6 313.5h0M47.1 318.4h0M44.4 321.7h0M109.9 264.4h0M55.4 308.4h0M60.6 297.5h0M49.2 316.9h0M83.2 298.2h0M44.3 321.4h0M50.9 313.2h0M44.3 321.5h0M45.3 320.7h0M145.8 209.7h0M70.6 296.4h0M53.4 311.3h0M58.9 313.8h0M109.0 269.1h0M49.9 317.3h0M64.0 303.6h0M73.6 290.7h0M50.3 317.1h0M58.6 300.1h0M85.6 291.9h0M119.6 260.5h0M45.6 320.2h0M128.6 266.8h0M44.1 321.8h0M83.5 274.8h0M94.2 277.1h0M45.4 318.6h0M52.9 313.1h0M95.2 268.2h0M44.2 321.9h0M67.5 307.8h0M90.6 283.9h0M58.2 310.0h0M79.3 291.9h0M46.8 317.8h0M46.3 321.3h0M50.6 317.6h0M46.0 321.2h0M50.0 311.6h0M135.2 255.2h0M62.6 306.9h0M49.8 318.1h0M47.8 316.0h0M137.2 252.3h0M54.2 311.7h0M155.6 265.5h0M58.4 303.6h0M58.8 306.8h0M115.7 246.4h0M81.9 268.1h0M63.2 305.1h0M53.3 313.6h0M110.4 246.8h0M52.6 312.3h0M124.4 254.4h0M44.7 321.4h0M53.5 314.4h0M58.6 305.5h0M136.7 229.3h0M47.3 318.4h0M93.2 240.0h0M72.7 304.1h0M78.0 291.1h0M67.6 287.6h0M148.8 248.2h0M49.5 318.9h0M52.0 309.0h0M46.4 318.8h0M44.5 321.8h0M46.6 318.2h0M121.8 267.1h0M100.7 284.4h0M45.2 321.0h0M65.2 304.6h0M56.1 314.0h0M64.4 304.8h0M70.8 302.7h0M48.7 316.7h0M142.3 244.5h0M55.3 308.8h0M67.5 302.5h0M68.2 306.0h0M46.1 320.9h0M44.6 321.5h0M52.6 307.7h0M85.4 269.3h0M95.1 280.5h0M79.9 275.3h0M45.2 321.4h0M121.0 233.6h0M92.4 279.6h0M110.3 245.8h0M58.9 305.6h0M121.8 256.5h0M44.5 321.5h0M44.3 321.8h0M44.2 321.8h0M47.4 316.3h0M47.3 302.2h0M46.2 319.0h0M62.1 304.8h0M44.4 321.8h0M64.1 297.4h0M45.8 321.2h0M72.9 299.9h0M44.2 321.7h0M48.8 318.8h0M130.7 219.8h0M60.0 302.0h0M94.4 280.3h0M70.6 300.3h0M65.9 307.6h0M46.2 320.8h0M62.7 302.5h0M44.4 321.4h0M92.3 269.7h0M141.6 240.0h0M104.1 272.6h0M44.5 321.4h0M49.7 318.6h0M49.1 316.5h0M45.2 319.8h0M67.4 291.4h0M91.5 281.3h0M48.9 317.3h0M106.3 236.2h0M91.4 244.3h0M45.3 321.4h0M85.8 285.4h0M111.7 254.7h0M46.3 317.9h0M62.7 308.2h0M68.6 294.7h0M65.7 303.3h0M45.0 319.1h0M71.0 293.2h0M67.9 300.5h0M97.0 275.2h0M92.7 257.6h0M49.3 314.5h0M78.7 297.4h0M107.5 257.9h0M114.6 275.2h0M45.8 320.8h0M44.3 321.9h0M69.8 304.9h0M46.6 320.0h0M61.9 309.3h0M133.6 237.9h0M51.2 312.2h0M47.4 318.7h0M54.8 314.9h0M70.5 290.8h0M45.0 321.7h0M51.3 318.5h0M45.4 320.1h0M71.1 291.2h0M98.5 252.7h0M51.1 315.4h0M50.9 317.7h0M60.0 309.1h0M46.6 318.5h0M47.3 319.5h0M49.4 317.6h0M54.9 315.5h0M44.8 321.6h0M83.5 271.7h0M63.1 302.0h0M48.5 318.9h0M44.8 321.6h0M85.2 287.3h0M45.4 320.3h0M45.4 321.3h0M45.4 320.8h0M44.8 321.8h0M118.7 271.8h0M47.7 317.2h0M48.7 314.6h0M99.0 283.6h0M66.7 304.7h0M46.1 318.8h0M53.7 313.9h0M112.0 266.5h0M51.1 313.3h0M77.2 287.9h0M45.0 320.4h0M79.5 277.9h0M87.5 285.6h0M97.4 271.9h0M72.5 295.3h0M50.9 317.8h0M44.7 321.7h0M58.6 304.3h0M84.2 297.0h0M46.2 318.4h0M47.7 317.5h0M59.8 307.9h0M82.7 277.0h0M115.7 247.6h0M45.3 319.8h0M46.1 320.2h0M91.9 278.0h0M69.2 299.8h0M78.6 262.9h0M174.9 218.7h0M131.1 261.6h0M101.4 271.6h0M87.7 286.9h0M51.9 314.2h0M68.8 297.3h0M46.1 315.9h0M84.6 298.4h0M84.3 267.6h0M78.6 283.5h0M54.2 314.3h0M51.2 315.2h0M53.0 314.7h0M44.4 321.6h0M101.7 248.6h0M60.2 312.0h0M51.6 309.8h0M60.7 308.0h0M78.7 269.0h0M51.3 313.4h0M98.5 247.4h0M123.2 240.9h0M51.5 310.7h0M45.5 320.6h0M84.7 290.2h0M169.1 222.5h0M45.6 319.8h0M77.4 261.7h0M97.3 292.5h0M123.6 253.9h0M45.3 320.0h0M44.9 321.6h0M162.9 239.4h0M45.2 318.8h0M46.0 318.1h0M62.8 308.2h0M54.3 306.6h0M83.1 266.8h0M46.2 318.8h0M121.4 245.4h0M46.7 318.9h0M86.2 289.4h0M44.7 321.6h0M55.8 308.3h0M44.4 321.6h0M48.9 310.8h0M48.9 317.3h0M78.4 305.5h0M54.8 312.9h0M44.6 321.4h0M172.6 226.0h0M113.4 256.1h0M122.1 264.0h0M47.2 315.4h0M51.8 315.9h0M46.8 317.9h0M45.3 320.9h0M44.4 321.8h0M57.6 303.1h0M45.3 321.7h0M46.0 320.7h0M105.7 255.5h0M56.4 311.6h0M46.1 319.0h0M72.0 296.0h0M47.7 318.7h0M59.1 296.4h0M48.1 317.9h0M58.4 309.1h0M67.5 305.3h0M59.8 310.0h0M51.9 312.0h0M90.2 268.2h0M109.1 259.9h0M46.0 320.5h0M45.4 320.0h0M45.2 321.6h0M154.9 244.1h0M132.2 251.1h0M46.9 319.9h0M147.7 239.4h0M46.5 320.1h0M57.8 311.8h0M57.2 301.2h0M121.6 238.2h0M44.4 321.2h0M49.0 316.4h0M64.9 296.9h0M44.7 321.1h0M47.0 316.5h0M55.3 300.0h0M111.2 262.0h0M84.8 277.8h0M98.2 269.9h0M84.8 307.5h0M76.7 300.7h0M103.0 264.5h0M73.3 288.1h0M80.8 291.2h0M48.6 313.9h0M45.9 318.6h0M84.1 286.3h0M45.8 318.4h0M123.2 218.1h0M64.6 300.2h0M49.4 318.0h0M130.0 220.3h0M45.7 320.4h0M58.3 309.9h0M44.9 321.1h0M144.8 250.8h0M62.8 298.6h0M92.8 261.8h0M48.1 314.5h0M92.4 265.4h0M76.1 297.0h0M69.1 299.1h0M136.5 229.6h0M53.6 313.9h0M52.8 298.4h0M74.7 294.1h0M99.5 275.9h0M49.6 312.6h0M71.9 288.9h0M46.5 319.4h0M60.9 307.1h0M86.2 273.9h0M44.7 321.1h0M79.6 277.6h0M44.2 321.8h0M140.6 236.7h0M55.5 308.0h0M52.5 311.0h0M78.5 308.4h0M58.9 311.1h0M80.0 293.6h0M44.9 321.3h0M61.8 304.5h0M61.4 301.0h0M128.1 237.2h0M44.4 321.6h0M54.6 311.8h0M67.8 286.5h0M60.9 308.6h0M44.8 321.2h0M64.3 293.3h0M46.8 318.6h0M46.3 321.1h0M110.6 252.2h0M46.3 320.0h0M54.7 312.2h0M83.1 268.5h0M76.7 285.2h0M61.1 307.1h0M93.4 259.0h0M55.3 309.8h0M66.8 300.0h0M95.9 266.4h0M72.9 291.9h0M68.9 300.4h0M52.4 314.9h0M61.4 305.5h0M51.9 316.4h0M82.1 295.8h0M51.3 310.0h0M55.4 312.1h0M83.9 282.1h0M57.6 309.7h0M49.7 315.8h0M97.7 269.0h0M51.3 314.4h0M101.8 276.9h0M89.2 263.0h0M54.3 314.1h0M77.4 277.4h0M44.4 321.9h0M51.6 316.8h0M105.7 244.3h0M63.1 304.7h0M61.4 308.4h0M71.4 292.8h0M72.9 301.1h0M63.5 303.3h0M53.0 317.9h0M46.1 320.3h0M48.3 318.3h0M48.3 315.9h0M53.5 309.6h0M179.2 241.2h0M50.2 309.9h0M54.3 313.9h0M50.9 318.7h0M63.3 312.3h0M135.1 218.8h0M113.5 258.0h0M51.1 316.3h0M47.7 319.0h0M112.2 273.1h0M57.0 303.9h0M73.8 293.7h0M44.7 320.3h0M107.3 264.1h0M48.9 319.9h0M57.0 306.4h0M46.3 320.0h0M53.0 313.9h0M97.9 240.0h0M97.8 273.0h0M55.8 306.2h0M86.0 279.8h0M54.9 313.9h0M51.0 313.3h0M60.5 308.8h0M46.4 317.7h0M49.0 313.9h0M76.6 289.4h0M86.5 271.1h0M44.6 321.3h0M80.3 288.7h0M95.6 256.6h0M54.2 312.9h0M44.6 321.2h0M73.5 300.1h0M47.2 318.3h0M69.0 295.4h0M51.1 316.6h0M68.4 301.2h0M47.5 319.0h0M56.0 308.0h0M59.0 310.5h0M67.8 296.8h0M46.4 317.0h0M142.7 237.2h0M48.2 319.6h0M48.7 316.5h0M47.5 316.1h0M44.7 321.5h0M53.1 309.0h0M86.7 270.6h0M77.0 285.2h0M46.3 319.9h0M45.4 320.9h0M49.2 316.9h0M86.1 278.8h0M56.6 308.1h0M124.6 241.9h0M70.4 298.6h0M66.8 300.1h0M86.0 274.6h0M83.1 297.7h0M49.9 317.3h0M47.5 319.3h0M53.8 313.1h0M56.7 311.0h0M45.5 320.7h0M54.0 314.7h0M68.7 293.9h0M45.4 320.4h0M45.5 321.4h0M45.9 320.0h0M48.1 319.1h0M142.5 216.1h0M44.3 321.8h0M46.1 320.2h0M45.8 320.1h0M55.8 311.5h0M44.2 321.8h0M54.9 305.1h0M45.8 320.0h0M47.8 316.1h0M90.5 257.7h0M46.1 320.6h0M66.4 289.4h0M52.4 311.3h0M52.9 309.8h0M95.5 282.1h0M45.8 319.4h0M124.8 241.8h0M114.8 263.8h0M71.8 271.7h0M44.5 321.3h0M71.2 297.4h0M64.9 301.2h0M86.8 265.7h0M46.6 317.4h0M137.9 234.4h0M112.7 233.4h0M45.2 319.7h0M49.0 318.6h0M44.4 321.7h0M98.6 280.7h0M121.6 249.4h0M165.1 215.3h0M66.0 297.5h0M71.5 302.0h0M73.0 296.0h0M62.4 299.2h0M137.4 252.9h0M65.6 302.1h0M49.6 315.1h0M58.2 314.0h0M44.2 321.6h0M79.0 283.3h0M74.9 286.3h0M53.0 315.6h0M103.5 274.9h0M83.9 288.1h0M49.7 315.3h0M44.8 321.3h0M45.4 320.5h0M46.1 317.0h0M48.7 313.2h0M54.4 314.1h0M126.4 258.6h0M48.0 313.0h0M116.3 259.5h0M73.2 280.1h0M104.0 231.9h0M52.2 315.2h0M44.0 321.9h0M89.5 275.3h0M47.2 319.6h0M45.5 321.1h0M91.9 279.4h0M73.9 284.8h0M46.6 319.8h0M47.7 318.2h0M131.1 254.2h0M47.7 319.7h0M76.0 273.6h0M45.4 321.6h0M95.1 279.9h0M45.2 320.4h0M58.4 312.8h0M44.4 321.4h0M60.8 299.7h0M102.3 277.0h0M44.9 321.1h0M47.9 319.3h0M85.5 273.3h0M65.6 301.1h0M48.9 316.0h0M67.6 290.1h0M54.7 310.1h0M106.2 235.6h0M48.3 315.6h0M84.3 293.3h0M68.3 297.3h0M81.5 278.4h0M51.2 317.7h0M79.1 269.9h0M75.5 290.4h0M51.6 313.2h0M44.3 321.8h0M143.2 241.6h0M77.5 285.7h0M46.4 319.8h0M80.0 285.1h0M48.0 320.2h0M55.5 305.5h0M105.6 277.6h0M54.4 317.1h0M48.2 318.8h0M48.7 318.2h0M44.8 321.1h0M46.7 320.1h0M47.8 317.2h0M45.9 320.7h0M44.7 320.2h0M55.3 309.3h0M46.6 315.4h0M81.2 294.4h0M124.3 237.3h0M47.8 319.1h0M62.5 301.6h0M57.8 306.2h0M44.8 321.7h0M45.3 321.3h0M112.3 273.8h0M55.8 315.0h0M92.9 282.5h0M44.7 321.7h0M64.4 308.8h0M107.0 259.4h0M107.4 251.1h0M44.1 321.9h0M58.8 310.1h0M50.8 314.9h0M84.7 283.6h0M44.7 321.6h0M47.6 316.3h0M94.6 258.3h0M55.6 308.6h0M54.7 312.5h0M146.8 212.6h0M49.1 310.8h0M44.5 321.7h0M51.7 314.5h0M45.7 319.1h0M44.8 321.5h0M62.2 302.9h0M138.0 243.9h0M63.1 307.0h0M69.4 299.1h0M49.2 318.9h0M62.5 307.0h0M83.4 300.0h0M64.0 287.9h0M92.6 247.9h0M60.8 299.9h0M46.3 319.2h0M63.4 298.2h0M56.8 304.5h0M45.8 319.0h0M66.6 295.1h0M95.5 282.7h0M45.4 320.3h0M60.4 308.6h0M80.5 296.5h0M52.2 316.5h0M47.8 317.0h0M50.9 311.3h0M60.2 311.5h0M74.0 274.2h0M61.5 297.6h0M45.1 321.2h0M95.7 277.3h0M124.8 250.5h0M45.0 320.4h0M47.3 319.0h0M45.9 320.8h0M102.9 259.1h0M120.0 279.5h0M44.5 321.5h0M49.5 312.6h0M46.2 319.3h0M55.5 308.2h0M124.0 241.1h0M44.7 321.1h0M45.9 319.9h0M56.6 312.8h0M58.9 308.8h0M82.3 284.5h0M53.9 307.6h0M45.5 318.8h0M50.2 314.3h0M157.1 248.7h0M83.1 290.3h0M45.2 321.0h0M93.7 249.2h0M48.9 315.9h0M88.4 278.3h0M44.2 321.9h0M108.5 243.9h0M45.8 319.9h0M54.8 312.0h0M71.0 295.3h0M57.9 301.0h0M45.8 320.3h0M45.5 318.8h0M48.1 314.3h0M44.6 321.5h0M46.6 317.8h0M45.4 320.8h0M55.3 313.8h0M50.3 316.0h0M63.7 307.4h0M48.0 316.5h0M44.4 321.6h0M49.5 314.6h0M83.9 270.8h0M47.4 321.1h0M52.3 312.8h0M83.8 298.5h0M52.4 313.2h0M112.9 269.9h0M122.7 248.9h0M48.8 312.8h0M80.8 300.0h0M47.4 318.0h0M45.5 320.6h0M53.9 316.9h0M65.1 298.5h0M129.5 247.1h0M45.6 320.8h0M77.4 295.4h0M55.9 292.5h0M45.4 320.9h0M149.6 264.9h0M75.1 298.7h0M45.3 320.9h0M118.5 259.4h0M45.1 321.1h0M44.9 321.5h0M49.5 314.7h0M130.5 254.9h0M44.4 321.9h0M122.7 263.1h0M65.9 303.3h0M44.7 321.0h0M62.2 302.5h0M55.0 312.7h0M61.9 305.1h0M81.0 282.6h0M73.0 272.4h0M175.7 239.4h0M45.7 319.9h0M94.6 260.6h0M52.6 315.9h0M88.8 274.8h0M114.3 253.4h0M167.8 240.4h0M47.7 316.9h0M54.6 308.0h0M132.7 225.5h0M134.1 249.2h0M51.0 314.3h0M131.5 209.6h0M52.3 316.4h0M51.0 314.1h0M84.1 269.5h0M55.6 310.6h0M54.4 309.8h0M51.5 313.9h0M53.6 310.0h0M45.5 319.3h0M44.6 321.5h0M83.7 279.7h0M61.9 305.4h0M72.2 297.7h0M92.5 274.2h0M46.9 320.1h0M47.0 317.6h0M48.0 313.1h0M48.7 311.7h0M84.8 262.2h0M51.0 317.0h0M49.2 311.6h0M68.3 302.9h0M46.1 319.8h0M45.1 319.5h0M75.3 299.5h0M84.1 270.3h0M48.4 316.4h0M68.3 299.9h0M44.4 321.8h0M52.3 312.4h0M63.0 306.2h0M47.4 316.2h0M50.0 311.7h0M65.7 307.7h0M64.0 305.5h0M45.7 320.6h0M76.6 299.3h0M44.8 321.6h0M147.5 240.1h0M46.4 319.7h0M47.4 320.2h0M46.4 320.1h0M167.1 225.3h0M48.2 319.2h0M65.4 306.2h0M166.1 213.9h0M136.2 221.1h0M44.5 321.9h0M58.8 312.5h0M65.0 300.2h0M76.0 299.8h0M49.6 316.5h0M49.4 317.1h0M44.1 321.8h0M44.4 321.9h0M60.8 313.3h0M44.8 321.7h0M46.4 318.0h0M49.5 316.4h0M44.7 321.8h0M44.3 321.5h0M126.0 236.1h0M53.7 313.3h0M46.4 319.8h0M76.8 285.3h0M44.1 321.6h0M47.2 318.3h0M142.0 234.4h0M116.0 255.8h0M68.3 301.2h0M44.9 321.5h0M49.1 315.8h0M44.3 321.7h0M46.7 319.4h0M44.3 321.5h0M45.3 320.4h0M68.0 293.5h0M45.0 321.6h0M45.7 319.8h0M117.6 263.1h0M49.6 317.6h0M49.5 317.7h0M44.9 320.5h0M91.2 262.6h0M72.7 299.2h0M60.6 310.6h0M66.5 300.8h0M45.0 321.3h0M47.5 314.2h0M63.5 309.5h0M137.3 269.8h0M95.6 274.8h0M68.8 298.4h0M58.6 307.8h0M44.2 321.6h0M114.0 216.8h0M44.7 321.5h0M45.3 321.0h0M74.8 303.8h0M94.5 268.6h0M89.4 264.1h0M54.6 312.7h0M46.0 318.5h0M44.4 321.6h0M103.4 234.9h0M153.4 233.7h0M47.2 319.8h0M107.2 270.5h0M52.2 317.3h0M48.9 319.3h0M57.7 308.1h0M44.1 321.7h0M54.1 303.7h0M46.3 319.6h0M77.4 291.3h0M57.5 312.8h0M107.9 242.2h0M115.7 248.4h0M49.0 317.7h0M48.0 316.1h0M131.1 237.3h0M57.6 314.5h0M45.0 320.7h0M44.5 321.5h0M165.8 240.1h0M63.1 305.9h0M44.6 320.7h0M58.1 301.7h0M57.6 300.5h0M53.7 315.6h0M136.8 255.2h0M135.6 229.3h0M45.3 321.3h0M45.6 320.9h0M52.4 317.6h0M99.3 231.4h0M67.1 293.5h0M79.9 281.1h0M62.9 303.2h0M46.5 319.8h0M95.7 276.5h0M44.2 321.7h0M75.5 296.9h0M46.3 317.9h0M55.6 312.6h0M151.4 252.7h0M60.0 300.6h0M44.6 321.5h0M53.4 311.0h0M70.9 299.0h0M44.6 321.9h0M47.4 317.4h0M44.2 321.9h0M60.1 301.7h0M51.3 317.8h0M57.6 314.5h0M48.4 316.4h0M70.5 293.6h0M45.9 319.9h0M118.8 270.6h0M141.6 227.9h0M56.9 314.1h0M55.3 312.8h0M105.5 273.8h0M48.3 317.9h0M92.6 260.6h0M48.2 318.4h0M78.4 281.8h0M49.6 314.1h0M65.1 309.3h0M125.6 266.2h0M44.6 321.6h0M93.5 280.7h0M60.2 305.5h0M51.2 318.4h0M50.1 313.5h0M44.7 321.1h0M47.5 318.4h0M67.0 306.8h0M45.0 321.1h0M71.9 298.8h0M142.8 233.6h0M155.9 239.5h0M113.5 243.5h0M93.4 278.9h0M46.0 318.0h0M147.8 271.0h0M46.4 320.4h0M108.0 251.9h0M110.3 279.1h0M66.9 296.0h0M58.8 312.1h0M46.4 319.4h0M58.6 311.4h0M48.3 318.0h0M45.3 320.6h0M45.3 320.8h0M92.2 279.1h0M124.3 212.7h0M45.5 320.5h0M44.2 321.9h0M47.6 316.1h0M45.4 319.9h0M46.2 318.0h0M63.5 292.8h0M53.1 315.5h0M53.4 308.9h0M46.5 317.7h0M71.4 295.7h0M48.3 316.7h0M52.0 319.3h0M55.2 313.2h0M118.1 219.1h0M47.2 320.4h0M78.2 293.1h0M48.8 316.0h0M115.1 245.4h0M51.8 307.8h0M57.7 314.2h0M110.2 258.1h0M72.3 287.3h0M45.0 321.6h0M45.4 320.6h0M166.2 211.1h0M44.3 321.3h0M48.6 315.6h0M140.9 276.5h0M44.2 321.8h0M45.8 319.9h0M46.6 319.6h0M44.9 321.2h0M55.7 293.9h0M64.2 304.0h0M49.1 318.2h0M45.1 320.8h0M94.2 276.7h0M92.9 277.7h0M61.7 305.7h0M45.5 319.9h0M60.2 305.8h0M67.6 305.7h0M53.4 313.3h0M106.6 253.5h0M51.7 315.5h0M58.1 303.8h0M45.2 320.4h0M61.8 309.1h0M85.8 275.9h0M80.1 256.9h0M47.5 314.7h0M167.6 234.4h0M78.4 277.6h0M53.2 314.9h0M52.8 316.8h0M88.1 270.2h0M46.0 319.7h0M68.7 295.2h0M78.3 288.4h0M58.4 307.2h0M109.1 267.4h0M55.5 309.5h0M55.3 308.3h0M48.1 317.5h0M123.2 235.4h0M49.0 319.3h0M75.1 297.8h0M52.5 308.0h0M129.4 216.9h0M135.2 241.5h0M44.3 321.7h0M171.3 249.6h0M65.3 300.0h0M44.8 321.0h0M57.2 314.0h0M44.5 321.3h0M60.7 304.1h0M46.1 319.3h0M50.8 317.4h0M48.7 315.5h0M65.1 308.6h0M96.7 243.4h0M129.9 245.3h0M49.4 318.3h0M62.3 297.4h0M44.1 321.7h0M50.9 316.4h0M141.9 210.7h0M45.2 321.3h0M108.2 254.9h0M70.0 287.9h0M48.4 320.1h0M87.9 263.3h0M48.3 317.4h0M115.2 255.8h0M44.8 321.6h0M45.2 320.6h0M83.0 293.8h0M54.4 314.7h0M45.6 320.7h0M58.2 312.5h0M48.5 312.5h0M60.8 311.0h0M82.0 291.6h0M104.8 267.9h0M44.6 321.5h0M64.2 298.6h0M158.6 223.2h0M55.0 312.6h0M86.3 284.0h0M45.0 321.1h0M109.1 244.7h0M63.3 300.2h0M113.3 264.7h0M89.5 297.0h0M108.0 217.9h0M44.6 321.1h0" stroke="#2a6cb8" stroke-width="2.4" stroke-linecap="round" fill="none"/>
<line x1="44.01" y1="322.05" x2="182.24" y2="191.80" stroke="#111" stroke-width="1.1"/>
<rect x="37.5" y="186.25" width="149.8" height="142.1" fill="none" stroke="#e0e0e0" stroke-width="0.7"/>
<g fill="#1a1a1a" stroke="#1a1a1a" stroke-width="0.1"><text transform="translate(44.80,337.48) scale(1,1.045)" font-size="6.9" text-anchor="middle">0</text><text transform="translate(80.85,337.48) scale(1,1.045)" font-size="6.9" text-anchor="middle">5000</text><text transform="translate(116.90,337.48) scale(1,1.045)" font-size="6.9" text-anchor="middle">10,000</text><text transform="translate(152.95,337.48) scale(1,1.045)" font-size="6.9" text-anchor="middle">15,000</text><text transform="translate(34.20,326.18) scale(1,1.045)" font-size="6.9" text-anchor="end">0</text><text transform="translate(34.20,309.20) scale(1,1.045)" font-size="6.9" text-anchor="end">2500</text><text transform="translate(34.20,292.21) scale(1,1.045)" font-size="6.9" text-anchor="end">5000</text><text transform="translate(34.20,275.23) scale(1,1.045)" font-size="6.9" text-anchor="end">7500</text><text transform="translate(34.20,258.24) scale(1,1.045)" font-size="6.9" text-anchor="end">10,000</text><text transform="translate(34.20,241.26) scale(1,1.045)" font-size="6.9" text-anchor="end">12,500</text><text transform="translate(34.20,224.27) scale(1,1.045)" font-size="6.9" text-anchor="end">15,000</text><text transform="translate(34.20,207.29) scale(1,1.045)" font-size="6.9" text-anchor="end">17,500</text><text transform="translate(112.70,350.08) scale(1,1.045)" font-size="6.9" text-anchor="middle">Measured E* (MPa)</text><text transform="translate(9.63,258.35) rotate(-90) scale(1,1.045)" font-size="6.9" text-anchor="middle">Predicted E* (MPa)</text></g>
<path d="M258.65 186.35000000000002V328.25M216.0 287.90H365.4M302.58 186.35000000000002V328.25M216.0 246.60H365.4M346.51 186.35000000000002V328.25M216.0 205.30H365.4" stroke="#ebebeb" stroke-width="0.7" fill="none"/>
<path d="M222.0 308.4h0M358.9 203.0h0M336.9 209.5h0M285.3 262.6h0M294.2 251.4h0M344.6 207.4h0M230.8 307.9h0M340.5 218.2h0M338.6 209.2h0M311.6 246.0h0M294.5 259.8h0M291.7 256.3h0M288.9 262.3h0M309.4 238.6h0M314.9 230.2h0M319.1 230.1h0M357.6 199.7h0M338.2 212.3h0M324.7 222.1h0M356.3 206.9h0M284.0 259.3h0M276.7 277.1h0M324.0 232.4h0M254.5 290.8h0M251.6 295.6h0M315.8 231.6h0M311.4 232.6h0M348.1 214.5h0M325.3 225.8h0M315.8 224.8h0M314.2 231.5h0M288.0 247.2h0M237.7 299.6h0M281.0 276.4h0M330.3 226.0h0M282.1 258.6h0M301.8 239.5h0M228.8 309.6h0M341.2 211.2h0M275.8 268.5h0M290.4 268.3h0M345.1 208.3h0M315.4 226.8h0M342.5 198.2h0M326.1 225.1h0M334.2 206.3h0M265.4 285.6h0M318.1 236.2h0M315.2 246.3h0M344.4 202.7h0M300.9 249.1h0M322.8 217.0h0M258.6 285.7h0M303.7 243.2h0M296.8 262.2h0M275.2 259.3h0M340.1 212.7h0M302.9 246.2h0M354.6 209.3h0M322.2 224.2h0M323.4 222.8h0M326.0 227.5h0M329.0 221.1h0M275.3 268.0h0M309.0 234.9h0M287.0 258.2h0M305.2 232.5h0M266.4 282.3h0M353.2 204.7h0M284.0 265.7h0M328.7 234.4h0M294.2 257.3h0M344.6 202.3h0M327.9 221.4h0M272.4 280.7h0M342.4 207.2h0M350.7 211.4h0M347.0 206.6h0M320.5 227.5h0M274.5 266.4h0M281.1 271.2h0M349.1 200.4h0M319.0 222.4h0M279.5 270.1h0M345.4 203.1h0M326.3 231.7h0M320.5 239.3h0M302.5 241.3h0M306.1 242.4h0M287.0 257.5h0M252.5 296.6h0M344.8 208.2h0M311.6 234.0h0M318.6 223.5h0M296.7 251.3h0M334.9 224.0h0M246.6 285.5h0M302.1 241.6h0M249.3 288.5h0M270.9 274.1h0M353.1 196.3h0M327.5 222.7h0M307.8 238.3h0M316.6 242.8h0M344.5 209.7h0M299.1 252.6h0M322.2 228.5h0M329.6 219.1h0M300.3 252.0h0M316.2 225.5h0M336.0 219.8h0M347.4 207.0h0M275.3 269.2h0M349.6 209.0h0M230.7 299.8h0M335.1 211.8h0M339.6 212.7h0M273.2 258.0h0M306.9 241.5h0M340.0 209.4h0M239.7 306.4h0M325.2 233.2h0M338.2 215.6h0M315.7 236.2h0M332.9 219.8h0M285.4 254.8h0M281.8 282.9h0M301.1 254.0h0M279.3 281.3h0M299.3 238.6h0M351.0 205.6h0M320.8 232.2h0M298.7 255.8h0M290.9 248.4h0M351.4 204.8h0M309.4 238.8h0M354.9 208.6h0M315.9 228.5h0M316.4 231.9h0M346.4 203.3h0M334.3 209.4h0M321.4 230.1h0M307.7 242.4h0M345.0 203.4h0M306.2 239.9h0M348.6 205.3h0M260.8 285.7h0M308.0 244.2h0M316.2 230.5h0M351.3 199.7h0M288.4 257.4h0M339.3 201.9h0M329.0 229.1h0M332.2 219.3h0M325.3 217.4h0M353.7 203.8h0M297.8 259.9h0M304.8 234.7h0M282.4 259.5h0M256.5 299.3h0M283.7 256.4h0M348.0 209.1h0M342.0 215.8h0M269.2 278.6h0M323.3 229.6h0M312.6 243.3h0M322.5 229.8h0M327.7 227.8h0M294.9 250.6h0M352.4 202.9h0M311.4 234.5h0M325.2 227.6h0M325.8 231.1h0M279.9 276.7h0M259.2 289.7h0M306.2 233.1h0M335.9 209.8h0M340.0 214.1h0M333.3 212.0h0M269.3 286.6h0M347.8 200.5h0M339.0 213.7h0M344.9 203.2h0M316.6 230.6h0M348.0 205.9h0M255.3 287.6h0M249.2 302.2h0M243.8 297.6h0M288.6 249.2h0M288.1 227.3h0M280.4 260.2h0M320.3 229.8h0M252.9 299.8h0M322.2 223.4h0M277.5 281.9h0M329.1 225.4h0M244.3 294.0h0M295.4 259.2h0M350.1 197.9h0M317.9 227.1h0M339.7 214.0h0M327.6 225.7h0M323.8 232.9h0M280.9 276.3h0M320.9 227.5h0M253.1 286.5h0M338.9 209.9h0M352.3 201.9h0M343.1 211.0h0M256.5 286.6h0M298.5 258.4h0M296.2 250.0h0M269.2 265.4h0M325.1 219.5h0M338.6 214.4h0M295.7 252.8h0M343.8 201.1h0M338.6 202.9h0M272.0 286.5h0M336.2 216.3h0M345.3 205.4h0M281.7 254.9h0M320.8 233.6h0M326.0 221.6h0M323.7 228.3h0M266.3 261.0h0M327.8 220.6h0M325.5 225.8h0M340.7 211.9h0M339.1 206.2h0M297.2 244.6h0M332.6 223.4h0M344.1 206.3h0M346.1 211.9h0M276.8 275.5h0M247.4 304.9h0M327.0 229.9h0M283.9 267.4h0M320.0 235.1h0M350.7 201.4h0M302.9 239.8h0M288.6 259.0h0M310.5 245.5h0M327.5 219.2h0M267.2 295.9h0M303.0 257.6h0M272.7 267.9h0M327.9 219.4h0M341.2 204.9h0M302.6 246.7h0M302.1 254.0h0M318.0 234.8h0M284.0 257.7h0M288.0 263.6h0M297.5 253.9h0M310.6 247.0h0M263.5 292.8h0M335.1 210.6h0M321.3 227.1h0M294.1 259.9h0M262.7 293.0h0M335.9 217.3h0M272.3 269.8h0M272.6 283.2h0M272.2 275.6h0M263.4 300.9h0M347.2 210.7h0M290.6 252.1h0M294.9 244.7h0M341.4 215.4h0M324.6 229.7h0M280.4 259.5h0M308.4 243.1h0M345.4 208.9h0M302.4 241.9h0M331.7 217.6h0M266.4 271.2h0M333.0 213.0h0M336.9 216.4h0M340.8 210.7h0M328.8 221.9h0M302.0 254.8h0M259.8 295.2h0M316.2 229.2h0M335.4 223.1h0M280.8 257.5h0M290.3 253.4h0M317.7 233.3h0M334.7 212.6h0M346.4 203.6h0M271.4 265.3h0M280.0 269.3h0M338.8 213.0h0M326.5 225.3h0M332.5 207.7h0M357.9 197.8h0M350.1 207.4h0M342.2 210.6h0M337.0 217.1h0M304.5 243.7h0M326.2 223.4h0M280.0 248.1h0M335.6 224.2h0M335.4 209.2h0M332.6 215.4h0M309.4 244.1h0M302.7 246.1h0M307.0 244.9h0M250.7 292.5h0M342.3 203.9h0M318.2 239.5h0M303.7 235.8h0M318.7 233.5h0M332.6 209.7h0M303.1 242.1h0M341.2 203.6h0M348.3 202.1h0M303.7 237.3h0M273.3 272.6h0M335.7 218.9h0M357.0 198.4h0M274.9 265.7h0M331.9 207.4h0M340.8 220.2h0M348.4 205.2h0M271.0 266.8h0M265.5 291.3h0M356.1 201.8h0M269.9 259.4h0M279.0 256.0h0M320.9 233.7h0M309.5 231.7h0M334.9 209.0h0M280.8 259.1h0M347.9 203.1h0M284.2 259.9h0M336.4 218.4h0M260.5 290.5h0M312.1 233.9h0M250.3 291.9h0M295.7 237.3h0M295.6 252.8h0M332.4 230.5h0M310.4 241.1h0M258.0 286.2h0M357.6 199.1h0M345.8 205.8h0M348.1 208.1h0M287.9 246.7h0M304.4 248.0h0M285.5 255.0h0M271.3 277.4h0M250.5 302.4h0M314.8 228.1h0M271.0 295.5h0M278.9 273.9h0M343.6 205.6h0M313.1 238.8h0M279.9 260.2h0M328.5 222.4h0M290.2 258.8h0M316.9 222.7h0M292.2 254.9h0M315.9 234.9h0M325.2 230.3h0M317.7 236.2h0M304.5 239.5h0M338.1 209.5h0M344.6 206.9h0M279.3 272.2h0M273.1 267.7h0M269.3 290.8h0M354.7 202.8h0M350.4 204.5h0M285.9 266.2h0M353.5 201.8h0M283.0 268.0h0M315.1 239.0h0M314.3 226.4h0M347.9 201.5h0M253.4 281.5h0M295.9 249.7h0M323.0 223.0h0M260.3 279.9h0M286.7 249.9h0M311.3 225.4h0M345.2 207.5h0M335.7 212.9h0M341.1 210.0h0M335.7 232.8h0M331.5 225.9h0M342.7 208.3h0M329.4 217.7h0M333.7 219.4h0M294.4 243.2h0M277.7 258.1h0M335.4 216.8h0M277.4 257.2h0M348.3 197.6h0M322.7 225.6h0M297.5 255.6h0M349.9 198.0h0M275.9 271.4h0M315.8 236.1h0M265.4 280.0h0M352.9 204.4h0M321.0 224.3h0M339.1 207.4h0M292.1 244.5h0M338.9 208.5h0M331.1 223.1h0M326.4 224.7h0M351.3 199.8h0M308.3 243.0h0M306.5 224.1h0M330.3 221.2h0M341.6 212.2h0M298.1 240.4h0M328.5 218.1h0M283.2 262.7h0M319.0 232.3h0M336.4 211.5h0M260.0 279.6h0M333.1 212.9h0M240.6 300.7h0M352.1 201.2h0M311.7 233.5h0M305.9 237.7h0M332.5 233.9h0M316.6 237.8h0M333.3 220.9h0M264.1 284.1h0M319.9 229.4h0M319.5 226.3h0M349.5 201.3h0M253.1 292.2h0M310.2 239.1h0M325.4 216.9h0M318.9 234.2h0M262.0 282.0h0M322.4 220.7h0M284.9 258.2h0M281.5 280.2h0M345.0 204.8h0M281.8 267.0h0M310.3 239.8h0M334.9 209.5h0M331.5 216.2h0M319.1 232.3h0M339.4 206.6h0M311.4 235.9h0M324.6 225.4h0M340.3 208.8h0M329.2 219.8h0M326.3 225.7h0M305.6 245.5h0M319.5 230.5h0M304.6 249.5h0M334.4 222.3h0M303.0 236.1h0M311.5 239.6h0M335.3 214.8h0M314.8 235.8h0M298.4 247.9h0M340.9 209.7h0M303.0 244.2h0M342.3 212.6h0M337.6 207.8h0M309.6 243.6h0M331.9 212.8h0M251.1 307.5h0M304.0 250.7h0M343.6 202.8h0M321.3 229.7h0M319.5 233.9h0M328.1 220.4h0M329.1 226.3h0M321.6 228.3h0M307.1 255.0h0M279.9 269.5h0M293.3 256.7h0M293.4 248.1h0M308.1 235.6h0M358.5 202.2h0M300.0 236.0h0M309.7 243.0h0M302.0 259.0h0M321.5 240.0h0M351.0 197.8h0M345.8 206.3h0M302.6 249.2h0M290.3 260.6h0M345.5 211.1h0M313.9 228.9h0M329.7 220.9h0M261.8 270.0h0M344.1 208.1h0M295.6 266.6h0M314.0 231.5h0M281.8 266.8h0M307.0 243.0h0M341.0 201.9h0M341.0 211.1h0M312.1 231.3h0M336.3 213.8h0M310.7 243.1h0M302.2 241.8h0M318.5 234.5h0M282.2 254.0h0M296.1 243.2h0M331.4 218.4h0M336.5 210.4h0M258.0 283.6h0M333.5 218.0h0M340.2 205.9h0M309.4 241.1h0M259.4 282.1h0M329.5 225.5h0M287.8 257.0h0M326.4 222.0h0M302.6 250.2h0M325.9 226.4h0M289.3 260.1h0M312.4 233.5h0M316.7 236.9h0M325.4 223.0h0M282.4 251.4h0M352.5 201.3h0M292.9 263.9h0M294.9 249.8h0M289.1 248.7h0M260.5 288.3h0M307.3 234.7h0M336.6 210.2h0M331.6 216.2h0M281.5 266.3h0M273.2 276.9h0M296.6 251.2h0M336.3 213.4h0M313.4 233.6h0M348.7 202.3h0M327.4 224.3h0M324.6 225.5h0M336.2 211.7h0M334.9 223.6h0M299.1 252.7h0M289.1 262.2h0M308.7 241.5h0M313.5 237.7h0M273.9 274.1h0M309.1 245.0h0M326.1 221.1h0M273.0 270.7h0M273.4 285.7h0M278.5 267.1h0M292.3 261.1h0M352.5 197.3h0M247.0 298.2h0M279.9 268.9h0M277.3 267.8h0M312.2 238.6h0M240.3 298.9h0M310.7 230.1h0M277.0 267.0h0M290.7 248.6h0M338.2 206.2h0M279.9 273.4h0M324.3 218.4h0M305.6 238.3h0M306.8 235.9h0M340.1 214.8h0M276.8 262.6h0M348.7 202.3h0M346.2 208.0h0M328.4 210.6h0M256.1 284.6h0M328.0 223.4h0M323.0 226.4h0M336.6 208.6h0M283.8 253.1h0M351.6 200.7h0M345.6 200.5h0M269.5 264.7h0M295.9 258.5h0M250.3 296.5h0M341.2 214.2h0M347.9 204.1h0M356.4 197.2h0M323.9 223.5h0M328.2 227.1h0M329.2 222.4h0M320.5 224.8h0M351.5 205.0h0M323.6 227.2h0M298.2 246.0h0M315.6 243.3h0M242.8 291.2h0M332.8 215.3h0M330.4 216.8h0M307.1 247.3h0M342.9 211.8h0M335.3 217.7h0M298.3 246.3h0M262.7 283.0h0M272.4 272.4h0M280.0 251.6h0M294.6 241.6h0M309.7 243.6h0M349.1 206.5h0M291.7 241.2h0M346.6 206.8h0M329.3 213.9h0M343.0 200.2h0M305.3 246.2h0M228.1 306.5h0M337.8 212.0h0M287.8 264.1h0M274.0 279.6h0M338.8 213.6h0M329.8 216.0h0M283.6 265.3h0M290.4 256.4h0M350.1 205.3h0M290.5 264.7h0M331.1 211.3h0M272.0 292.7h0M340.0 213.8h0M270.1 271.4h0M315.9 240.9h0M251.4 287.2h0M318.8 225.2h0M342.5 212.6h0M264.0 280.5h0M291.2 262.1h0M336.0 211.2h0M323.6 226.3h0M295.6 248.5h0M325.3 218.8h0M310.3 236.3h0M343.7 201.0h0M293.4 247.3h0M335.5 220.7h0M325.8 223.3h0M334.1 213.2h0M302.7 254.2h0M332.9 210.0h0M330.8 219.0h0M303.7 241.6h0M247.3 301.4h0M352.6 202.3h0M332.0 216.5h0M282.7 265.5h0M333.3 216.2h0M291.7 268.9h0M311.7 230.5h0M343.5 212.8h0M309.7 251.9h0M292.8 259.3h0M294.8 256.5h0M262.6 279.3h0M284.5 268.0h0M290.8 252.4h0M278.4 274.9h0M259.5 268.7h0M311.4 235.2h0M283.9 246.7h0M334.0 221.4h0M348.6 201.3h0M291.0 261.2h0M320.7 226.7h0M315.1 231.3h0M262.2 297.2h0M271.3 283.8h0M345.5 211.4h0M312.2 245.6h0M339.2 215.0h0M260.3 294.0h0M322.5 234.5h0M344.0 206.7h0M344.1 204.5h0M231.4 309.0h0M316.4 236.3h0M301.8 245.4h0M335.6 215.4h0M261.8 290.3h0M290.1 249.4h0M339.8 206.4h0M311.7 234.2h0M310.2 240.3h0M353.3 196.7h0M296.4 237.4h0M253.8 293.9h0M304.2 244.4h0M275.7 260.8h0M263.5 289.3h0M320.3 228.0h0M351.6 202.8h0M321.3 232.3h0M326.7 224.7h0M296.8 260.1h0M320.6 232.2h0M335.0 225.4h0M322.1 217.6h0M339.0 203.7h0M318.9 225.3h0M281.8 261.5h0M321.6 224.0h0M313.7 229.5h0M277.5 260.3h0M324.5 221.8h0M340.1 215.1h0M272.9 269.7h0M318.4 234.3h0M333.6 222.8h0M305.3 250.0h0M290.7 251.6h0M302.1 238.3h0M318.1 238.6h0M329.8 211.6h0M319.6 223.5h0M268.3 281.0h0M340.2 212.7h0M348.7 204.3h0M267.2 271.0h0M288.2 260.1h0M278.5 276.0h0M342.7 206.6h0M347.5 213.6h0M254.6 289.1h0M297.8 240.5h0M281.1 262.3h0M311.7 233.7h0M348.5 202.1h0M261.1 279.4h0M278.2 266.5h0M313.3 240.8h0M316.6 234.5h0M334.5 215.9h0M308.7 233.0h0M273.8 259.2h0M300.1 244.0h0M355.1 203.9h0M334.9 218.9h0M269.9 277.8h0M339.4 204.0h0M295.4 248.0h0M337.3 213.2h0M238.5 305.2h0M344.4 202.8h0M277.0 266.7h0M310.4 239.3h0M327.9 222.0h0M315.2 226.3h0M277.4 269.8h0M273.5 259.0h0M292.4 244.1h0M256.9 288.5h0M284.2 254.8h0M272.1 275.0h0M311.3 243.0h0M300.4 248.4h0M321.9 232.7h0M292.0 249.8h0M250.9 292.3h0M297.7 244.7h0M335.2 210.3h0M289.0 279.5h0M305.5 240.8h0M335.2 224.2h0M305.7 241.6h0M345.7 210.0h0M348.2 204.0h0M295.4 240.8h0M333.7 225.4h0M288.7 255.4h0M273.6 273.1h0M308.7 251.4h0M323.2 224.3h0M349.8 203.5h0M274.6 275.5h0M331.9 222.0h0M312.3 220.2h0M272.4 276.9h0M353.8 208.4h0M330.6 224.4h0M271.9 277.1h0M347.2 206.7h0M267.6 279.3h0M265.6 289.2h0M297.7 244.9h0M350.0 205.5h0M250.5 303.4h0M348.2 207.8h0M323.9 228.3h0M260.4 279.1h0M320.4 227.6h0M310.7 240.7h0M320.0 230.1h0M333.8 215.0h0M329.2 210.9h0M358.0 201.8h0M276.1 266.1h0M339.8 207.1h0M306.1 248.2h0M337.5 211.8h0M346.0 205.1h0M356.8 202.0h0M290.2 251.1h0M310.2 233.4h0M350.5 199.0h0M350.8 204.0h0M302.2 244.0h0M350.2 196.2h0M305.6 249.6h0M302.4 243.6h0M335.4 209.9h0M311.9 237.0h0M309.7 235.8h0M303.6 243.1h0M308.3 236.2h0M273.6 262.2h0M259.0 289.3h0M335.2 213.7h0M320.1 230.4h0M328.7 223.6h0M339.0 211.6h0M285.9 268.3h0M286.3 253.7h0M291.6 241.5h0M294.6 238.9h0M335.7 207.5h0M302.3 251.5h0M296.8 238.8h0M325.9 227.9h0M280.3 265.9h0M268.2 263.2h0M330.7 225.0h0M335.3 210.1h0M293.8 249.6h0M325.8 225.3h0M251.0 299.3h0M305.4 240.2h0M321.2 231.3h0M288.7 249.1h0M299.5 238.9h0M323.7 233.0h0M322.1 230.6h0M275.8 272.7h0M331.4 224.9h0M263.2 292.4h0M353.4 201.9h0M282.3 265.0h0M288.7 269.0h0M282.1 267.8h0M356.7 198.9h0M292.6 261.4h0M323.4 231.3h0M356.6 197.0h0M351.2 198.2h0M254.0 303.7h0M316.4 240.3h0M323.1 225.6h0M331.1 225.2h0M298.2 250.0h0M297.3 252.0h0M229.5 300.1h0M251.5 309.5h0M318.8 241.9h0M262.3 294.2h0M282.4 255.5h0M297.9 249.5h0M261.2 299.3h0M249.5 289.4h0M349.0 201.1h0M308.5 241.9h0M282.7 265.6h0M331.6 216.3h0M235.4 292.3h0M287.7 256.7h0M352.4 200.7h0M346.5 205.7h0M325.8 226.4h0M265.7 288.0h0M296.2 247.9h0M248.1 296.4h0M284.5 263.0h0M246.8 287.7h0M271.5 270.7h0M325.6 220.8h0M267.1 291.9h0M276.0 265.5h0M346.9 207.8h0M298.1 253.8h0M297.9 254.3h0M264.5 272.0h0M338.5 207.7h0M329.0 224.8h0M318.6 237.0h0M324.4 226.0h0M267.1 282.9h0M289.5 243.8h0M321.6 235.5h0M351.5 210.0h0M340.1 211.8h0M326.2 224.2h0M316.2 233.2h0M240.4 293.0h0M346.0 197.4h0M260.4 288.9h0M272.0 278.5h0M330.3 228.8h0M339.8 209.6h0M337.7 208.1h0M310.1 240.7h0M279.0 257.6h0M251.5 291.9h0M342.9 200.8h0M354.5 200.6h0M287.6 265.9h0M344.0 210.2h0M305.3 252.6h0M295.5 262.5h0M315.0 233.6h0M234.1 295.5h0M309.2 228.7h0M282.0 264.2h0M331.9 219.5h0M314.7 240.8h0M344.2 202.4h0M346.4 203.8h0M296.1 254.0h0M291.9 248.5h0M350.1 201.3h0M314.9 244.5h0M266.4 273.9h0M255.1 288.9h0M356.5 201.9h0M321.3 231.0h0M257.4 274.3h0M315.5 226.8h0M314.9 225.8h0M308.5 247.2h0M351.4 205.6h0M351.1 199.7h0M271.3 284.5h0M275.4 276.3h0M305.8 253.8h0M341.5 200.1h0M324.9 220.8h0M333.2 214.3h0M321.0 228.2h0M283.3 265.6h0M340.2 212.4h0M239.5 294.5h0M330.8 223.0h0M281.3 254.9h0M311.9 240.5h0M354.1 204.9h0M317.9 225.9h0M258.1 289.4h0M307.9 237.7h0M327.7 224.6h0M258.0 306.8h0M288.6 252.9h0M242.6 307.5h0M318.0 226.9h0M303.1 254.7h0M314.8 244.5h0M293.7 249.5h0M327.5 220.8h0M278.5 266.6h0M347.2 210.3h0M352.3 199.4h0M313.9 243.6h0M311.3 240.9h0M343.5 211.4h0M293.0 255.1h0M339.0 207.1h0M292.7 257.2h0M332.5 214.6h0M298.0 243.6h0M323.2 235.1h0M348.9 208.8h0M257.4 291.8h0M339.4 214.1h0M318.2 230.5h0M302.8 257.5h0M299.8 242.2h0M260.9 279.4h0M289.3 257.4h0M324.8 232.0h0M266.6 279.7h0M328.5 224.5h0M352.5 200.5h0M354.9 201.8h0M345.8 202.7h0M339.3 213.4h0M279.1 255.4h0M353.5 210.4h0M282.4 271.2h0M344.3 204.7h0M345.0 213.5h0M324.7 222.4h0M316.4 239.6h0M282.1 262.9h0M316.2 238.3h0M293.1 255.4h0M271.4 273.3h0M271.8 275.1h0M338.9 213.5h0M348.6 196.7h0M273.9 272.0h0M238.9 306.5h0M289.9 248.8h0M272.8 266.7h0M280.6 255.7h0M321.6 220.3h0M307.2 247.1h0M307.9 234.6h0M282.8 254.2h0M328.1 222.2h0M293.0 250.6h0M304.9 262.2h0M311.2 241.7h0M347.1 197.8h0M287.9 271.0h0M332.4 220.5h0M295.2 248.4h0M346.3 203.1h0M304.4 233.2h0M315.0 243.9h0M344.9 206.4h0M328.7 217.3h0M266.0 291.0h0M273.2 273.2h0M356.6 196.5h0M248.7 283.5h0M294.3 247.4h0M352.2 212.4h0M240.3 299.6h0M276.8 266.0h0M283.8 264.3h0M264.4 282.4h0M312.0 221.0h0M322.4 229.0h0M296.2 256.5h0M268.5 275.7h0M339.7 212.5h0M339.1 212.9h0M319.9 230.8h0M273.3 266.6h0M318.2 230.8h0M325.3 230.7h0M307.8 241.8h0M343.8 205.1h0M304.0 246.9h0M315.5 228.7h0M269.5 270.4h0M320.0 235.0h0M336.1 212.2h0M333.4 206.0h0M289.1 244.9h0M356.8 200.7h0M332.5 212.9h0M307.4 245.4h0M306.5 250.9h0M337.2 210.1h0M278.8 265.1h0M326.1 221.9h0M332.4 217.8h0M315.9 232.4h0M344.6 209.2h0M311.7 235.5h0M311.3 233.8h0M292.4 253.4h0M348.3 200.9h0M296.0 262.2h0M330.5 223.7h0M305.9 233.5h0M349.8 197.4h0M351.0 202.2h0M249.1 294.3h0M357.4 204.1h0M323.4 225.4h0M261.9 278.2h0M314.2 243.3h0M256.1 284.8h0M318.7 229.0h0M280.1 262.2h0M301.7 253.2h0M294.7 247.0h0M323.1 234.2h0M340.6 202.6h0M349.9 203.1h0M297.4 256.9h0M320.5 223.4h0M231.6 294.9h0M302.1 249.6h0M352.4 196.4h0M270.3 283.9h0M344.3 205.5h0M327.1 217.6h0M293.5 268.1h0M337.1 207.9h0M292.9 252.9h0M346.3 205.7h0M263.7 291.4h0M270.3 273.2h0M334.8 221.0h0M309.8 245.0h0M274.8 274.8h0M315.7 240.4h0M293.8 240.4h0M318.8 237.8h0M334.3 219.6h0M343.3 209.3h0M258.6 287.9h0M322.3 224.3h0M355.4 198.6h0M310.8 240.4h0M336.4 215.7h0M266.5 279.5h0M344.6 202.9h0M321.5 225.5h0M345.8 208.3h0M337.8 223.1h0M344.3 197.6h0M258.1 280.4h0" stroke="#2a6cb8" stroke-width="2.4" stroke-linecap="round" fill="none"/>
<line x1="222.01" y1="322.34" x2="358.94" y2="193.61" stroke="#111" stroke-width="1.1"/>
<rect x="216.0" y="186.35000000000002" width="149.4" height="141.9" fill="none" stroke="#e0e0e0" stroke-width="0.7"/>
<g fill="#1a1a1a" stroke="#1a1a1a" stroke-width="0.1"><text transform="translate(259.25,341.03) scale(1,1.045)" font-size="6.9" text-anchor="middle">10<tspan font-size="5.0" dy="-4.6">2</tspan></text><text transform="translate(212.50,293.13) scale(1,1.045)" font-size="6.9" text-anchor="end">10<tspan font-size="5.0" dy="-4.6">2</tspan></text><text transform="translate(303.18,341.03) scale(1,1.045)" font-size="6.9" text-anchor="middle">10<tspan font-size="5.0" dy="-4.6">3</tspan></text><text transform="translate(212.50,251.83) scale(1,1.045)" font-size="6.9" text-anchor="end">10<tspan font-size="5.0" dy="-4.6">3</tspan></text><text transform="translate(347.11,341.03) scale(1,1.045)" font-size="6.9" text-anchor="middle">10<tspan font-size="5.0" dy="-4.6">4</tspan></text><text transform="translate(212.50,210.53) scale(1,1.045)" font-size="6.9" text-anchor="end">10<tspan font-size="5.0" dy="-4.6">4</tspan></text><text transform="translate(291.30,351.88) scale(1,1.045)" font-size="6.9" text-anchor="middle">Log Measured E* (MPa)</text><text transform="translate(196.63,257.65) rotate(-90) scale(1,1.045)" font-size="6.9" text-anchor="middle">Log Predicted E* (MPa)</text></g>
<rect x="40.4" y="189.5" width="53.8" height="31.7" rx="1" fill="#fff" fill-opacity="0.85" stroke="#e0e0e0" stroke-width="0.6"/>
<line x1="42.2" y1="200.75" x2="51.7" y2="200.75" stroke="#222" stroke-width="0.8"/>
<g fill="#444"><text transform="translate(66.80,195.17) scale(1,1.1)" font-size="5.1" text-anchor="middle">Arithmetic Scale</text><text transform="translate(56.30,202.97) scale(1,1.1)" font-size="5.1">Equality line</text><text transform="translate(56.30,211.17) scale(1,1.1)" font-size="5.1"><tspan font-style="italic" font-size="5.6">R</tspan><tspan font-size="3.8" dy="-2.4">2</tspan><tspan dy="2.4"> = 0.902</tspan></text><text transform="translate(56.30,219.17) scale(1,1.1)" font-size="5.1">N = 1128 records</text></g>
<rect x="218.4" y="189.5" width="53.8" height="31.7" rx="1" fill="#fff" fill-opacity="0.85" stroke="#e0e0e0" stroke-width="0.6"/>
<line x1="220.2" y1="200.75" x2="229.7" y2="200.75" stroke="#222" stroke-width="0.8"/>
<g fill="#444"><text transform="translate(244.80,195.17) scale(1,1.1)" font-size="5.1" text-anchor="middle">Logarithmic Scale</text><text transform="translate(234.30,202.97) scale(1,1.1)" font-size="5.1">Equality line</text><text transform="translate(234.30,211.17) scale(1,1.1)" font-size="5.1"><tspan font-style="italic" font-size="5.6">R</tspan><tspan font-size="3.8" dy="-2.4">2</tspan><tspan dy="2.4"> = 0.951</tspan></text><text transform="translate(234.30,219.17) scale(1,1.1)" font-size="5.1">N = 1128 records</text></g>
<text x="185.0" y="363.85" font-size="8.7" font-weight="bold" text-anchor="middle" fill="#111">(b)</text>
<path d="M43.90 368.15V510.29999999999995M79.95 368.15V510.29999999999995M116.00 368.15V510.29999999999995M152.05 368.15V510.29999999999995M37.5 503.30H187.3M37.5 486.31H187.3M37.5 469.33H187.3M37.5 452.34H187.3M37.5 435.36H187.3M37.5 418.37H187.3M37.5 401.39H187.3M37.5 384.40H187.3" stroke="#ebebeb" stroke-width="0.7" fill="none"/>
<path d="M44.0 503.1h0M182.2 400.5h0M87.4 448.8h0M46.8 499.7h0M48.5 497.8h0M109.2 463.0h0M44.1 503.1h0M96.4 447.3h0M91.4 474.7h0M55.5 490.4h0M48.6 499.1h0M48.0 499.9h0M47.4 498.1h0M54.2 494.7h0M57.7 492.7h0M61.1 489.5h0M172.8 402.4h0M90.6 394.2h0M66.9 491.8h0M164.1 409.2h0M46.6 500.4h0M45.8 500.3h0M66.0 484.0h0M44.5 503.1h0M44.4 502.3h0M58.3 493.0h0M55.4 491.8h0M122.4 455.2h0M67.6 486.9h0M58.3 490.9h0M57.2 485.6h0M47.3 498.0h0M44.1 503.1h0M46.2 500.0h0M74.7 476.3h0M46.4 500.3h0M50.8 495.6h0M44.1 503.0h0M98.4 460.0h0M45.7 501.5h0M47.7 498.6h0M111.0 441.1h0M58.0 492.3h0M102.4 412.9h0M68.7 482.3h0M81.7 455.4h0M44.9 502.2h0M60.2 479.3h0M57.9 496.3h0M108.6 398.9h0M50.5 496.8h0M64.7 489.5h0M44.6 502.6h0M51.6 486.8h0M49.2 496.4h0M45.6 502.2h0M95.4 460.0h0M51.2 491.5h0M154.2 437.8h0M64.0 484.6h0M65.3 484.2h0M68.5 455.1h0M72.7 477.4h0M45.6 500.0h0M54.0 495.0h0M47.1 500.6h0M52.2 491.4h0M45.0 501.8h0M146.3 446.6h0M46.6 499.2h0M72.2 469.1h0M48.6 499.2h0M109.3 440.1h0M71.1 474.2h0M45.4 502.0h0M101.9 457.4h0M133.7 439.3h0M117.9 442.7h0M62.3 491.4h0M45.6 501.5h0M46.2 501.8h0M126.4 431.5h0M61.0 486.8h0M46.0 501.7h0M112.1 426.1h0M68.9 457.9h0M62.3 475.4h0M51.1 498.4h0M52.6 489.8h0M47.1 499.3h0M44.4 502.8h0M109.9 452.6h0M55.4 491.6h0M60.6 477.3h0M49.2 496.4h0M83.2 469.1h0M44.3 503.0h0M50.9 496.8h0M44.3 502.7h0M45.3 500.1h0M145.8 437.8h0M70.6 477.1h0M53.4 494.7h0M58.9 491.5h0M109.0 437.3h0M49.9 495.6h0M64.0 490.7h0M73.6 482.3h0M50.3 493.2h0M58.6 487.0h0M85.6 454.3h0M119.6 445.2h0M45.6 501.7h0M128.6 422.9h0M44.1 503.1h0M83.5 475.7h0M94.2 454.4h0M45.4 500.9h0M52.9 496.6h0M95.2 434.8h0M44.2 502.9h0M67.5 485.8h0M90.6 456.8h0M58.2 489.1h0M79.3 460.4h0M46.8 498.9h0M46.3 501.6h0M50.6 498.7h0M46.0 499.7h0M50.0 496.6h0M135.2 419.5h0M62.6 482.7h0M49.8 492.8h0M47.8 500.5h0M137.2 403.8h0M54.2 495.2h0M155.6 399.7h0M58.4 481.0h0M58.8 493.7h0M115.7 432.5h0M81.9 468.8h0M63.2 485.9h0M53.3 493.5h0M110.4 458.2h0M52.6 496.7h0M124.4 421.7h0M44.7 502.1h0M53.5 495.1h0M58.6 494.0h0M136.7 386.5h0M47.3 497.4h0M93.2 449.4h0M72.7 482.9h0M78.0 475.3h0M67.6 478.2h0M148.8 434.6h0M49.5 492.9h0M52.0 494.5h0M46.4 499.9h0M44.5 502.9h0M46.6 501.1h0M121.8 448.1h0M100.7 445.3h0M45.2 502.1h0M65.2 484.2h0M56.1 489.6h0M64.4 481.6h0M70.8 461.1h0M48.7 498.3h0M142.3 439.1h0M55.3 491.7h0M67.5 466.6h0M68.2 483.4h0M46.1 500.8h0M44.6 502.7h0M52.6 493.1h0M85.4 458.5h0M95.1 464.5h0M79.9 470.1h0M45.2 501.3h0M121.0 414.6h0M92.4 439.9h0M110.3 427.3h0M58.9 489.8h0M121.8 441.7h0M44.5 502.4h0M44.3 503.0h0M44.2 502.9h0M47.4 501.3h0M47.3 499.9h0M46.2 501.4h0M62.1 491.0h0M44.4 502.6h0M64.1 487.6h0M45.8 501.4h0M72.9 477.0h0M44.2 503.0h0M48.8 494.5h0M130.7 438.3h0M60.0 486.3h0M94.4 470.3h0M70.6 480.7h0M65.9 483.9h0M46.2 501.0h0M62.7 487.9h0M44.4 502.7h0M92.3 426.2h0M141.6 425.5h0M104.1 449.6h0M44.5 502.8h0M49.7 488.8h0M49.1 493.5h0M45.2 501.6h0M67.4 474.6h0M91.5 465.6h0M48.9 498.1h0M106.3 442.4h0M91.4 454.6h0M45.3 502.2h0M85.8 470.6h0M111.7 433.2h0M46.3 500.2h0M62.7 493.8h0M68.6 478.4h0M65.7 471.3h0M45.0 502.5h0M71.0 474.6h0M67.9 488.5h0M97.0 438.0h0M92.7 469.3h0M49.3 499.4h0M78.7 472.1h0M107.5 393.8h0M114.6 449.7h0M45.8 502.1h0M44.3 502.8h0M69.8 475.9h0M46.6 497.3h0M61.9 491.4h0M133.6 451.7h0M51.2 496.4h0M47.4 498.7h0M54.8 490.8h0M70.5 466.4h0M45.0 502.7h0M51.3 497.4h0M45.4 501.8h0M71.1 468.4h0M98.5 443.4h0M51.1 496.7h0M50.9 498.0h0M60.0 482.0h0M46.6 498.7h0M47.3 492.7h0M49.4 497.7h0M54.9 484.6h0M44.8 502.8h0M83.5 470.1h0M63.1 488.0h0M48.5 498.9h0M44.8 502.7h0M85.2 468.6h0M45.4 501.8h0M45.4 502.0h0M45.4 501.2h0M44.8 502.4h0M118.7 437.7h0M47.7 495.9h0M48.7 497.4h0M99.0 448.5h0M66.7 481.1h0M46.1 500.7h0M53.7 491.2h0M112.0 453.9h0M51.1 492.5h0M77.2 449.2h0M45.0 501.5h0M79.5 473.1h0M87.5 476.9h0M97.4 458.2h0M72.5 473.8h0M50.9 493.8h0M44.7 502.6h0M58.6 489.9h0M84.2 438.3h0M46.2 501.3h0M47.7 497.0h0M59.8 482.2h0M82.7 477.9h0M115.7 434.8h0M45.3 502.1h0M46.1 501.6h0M91.9 476.6h0M69.2 488.2h0M78.6 464.1h0M174.9 409.5h0M131.1 424.9h0M101.4 463.5h0M87.7 463.8h0M51.9 495.7h0M68.8 488.3h0M46.1 502.0h0M84.6 456.7h0M84.3 461.2h0M78.6 477.7h0M54.2 493.1h0M51.2 493.9h0M53.0 486.6h0M44.4 503.0h0M101.7 438.5h0M60.2 471.5h0M51.6 495.1h0M60.7 476.8h0M78.7 488.1h0M51.3 491.1h0M98.5 451.4h0M123.2 460.5h0M51.5 493.1h0M45.5 500.7h0M84.7 443.7h0M169.1 389.9h0M45.6 501.5h0M77.4 477.1h0M97.3 458.6h0M123.6 435.1h0M45.3 501.6h0M44.9 502.4h0M162.9 408.9h0M45.2 501.3h0M46.0 500.6h0M62.8 464.8h0M54.3 482.2h0M83.1 476.2h0M46.2 501.2h0M121.4 454.9h0M46.7 501.2h0M86.2 453.1h0M44.7 502.8h0M55.8 494.6h0M44.4 502.9h0M48.9 496.0h0M48.9 498.5h0M78.4 472.8h0M54.8 488.5h0M44.6 502.5h0M172.6 395.3h0M113.4 423.3h0M122.1 450.8h0M47.2 499.1h0M51.8 496.5h0M46.8 498.2h0M45.3 501.2h0M44.4 503.0h0M57.6 482.2h0M45.3 502.4h0M46.0 499.6h0M105.7 442.9h0M56.4 493.7h0M46.1 501.7h0M72.0 478.2h0M47.7 499.1h0M59.1 491.1h0M48.1 497.6h0M58.4 493.9h0M67.5 480.2h0M59.8 487.4h0M51.9 498.7h0M90.2 452.5h0M109.1 461.4h0M46.0 502.4h0M45.4 502.0h0M45.2 502.1h0M154.9 396.3h0M132.2 437.3h0M46.9 497.1h0M147.7 392.8h0M46.5 498.7h0M57.8 482.0h0M57.2 488.3h0M121.6 444.7h0M44.4 502.5h0M49.0 495.6h0M64.9 481.1h0M44.7 502.6h0M47.0 501.3h0M55.3 488.9h0M111.2 436.5h0M84.8 476.3h0M98.2 450.0h0M84.8 452.0h0M76.7 471.9h0M103.0 434.2h0M73.3 466.4h0M80.8 480.4h0M48.6 498.6h0M45.9 500.6h0M84.1 449.8h0M45.8 499.5h0M123.2 461.1h0M64.6 483.4h0M49.4 495.7h0M130.0 405.4h0M45.7 499.4h0M58.3 492.6h0M44.9 502.4h0M144.8 438.2h0M62.8 479.1h0M92.8 471.5h0M48.1 496.2h0M92.4 439.5h0M76.1 466.2h0M69.1 490.9h0M136.5 437.7h0M53.6 490.6h0M52.8 497.5h0M74.7 475.2h0M99.5 452.1h0M49.6 495.0h0M71.9 473.1h0M46.5 499.9h0M60.9 488.6h0M86.2 461.0h0M44.7 502.6h0M79.6 458.7h0M44.2 503.0h0M140.6 402.7h0M55.5 496.4h0M52.5 490.3h0M78.5 470.8h0M58.9 481.8h0M80.0 466.5h0M44.9 501.9h0M61.8 474.8h0M61.4 488.7h0M128.1 430.3h0M44.4 502.8h0M54.6 491.6h0M67.8 489.3h0M60.9 487.3h0M44.8 502.5h0M64.3 487.7h0M46.8 500.2h0M46.3 501.8h0M110.6 415.0h0M46.3 500.0h0M54.7 483.2h0M83.1 473.8h0M76.7 481.0h0M61.1 484.6h0M93.4 474.4h0M55.3 490.8h0M66.8 485.5h0M95.9 457.9h0M72.9 472.3h0M68.9 478.5h0M52.4 487.5h0M61.4 482.0h0M51.9 497.8h0M82.1 451.5h0M51.3 498.3h0M55.4 491.3h0M83.9 476.6h0M57.6 492.7h0M49.7 493.6h0M97.7 459.8h0M51.3 497.0h0M101.8 457.2h0M89.2 462.4h0M54.3 486.4h0M77.4 480.5h0M44.4 503.0h0M51.6 493.6h0M105.7 467.0h0M63.1 486.4h0M61.4 478.4h0M71.4 476.4h0M72.9 478.9h0M63.5 487.9h0M53.0 496.3h0M46.1 501.4h0M48.3 498.1h0M48.3 495.7h0M53.5 489.9h0M179.2 410.3h0M50.2 498.0h0M54.3 490.0h0M50.9 499.2h0M63.3 486.7h0M135.1 433.1h0M113.5 457.3h0M51.1 497.8h0M47.7 498.4h0M112.2 464.3h0M57.0 493.5h0M73.8 479.4h0M44.7 502.4h0M107.3 463.9h0M48.9 495.4h0M57.0 491.4h0M46.3 500.8h0M53.0 495.0h0M97.9 461.4h0M97.8 465.1h0M55.8 486.1h0M86.0 458.9h0M54.9 492.5h0M51.0 493.2h0M60.5 490.2h0M46.4 499.7h0M49.0 497.7h0M76.6 479.2h0M86.5 449.8h0M44.6 503.0h0M80.3 459.3h0M95.6 465.5h0M54.2 491.4h0M44.6 502.0h0M73.5 468.8h0M47.2 500.3h0M69.0 479.2h0M51.1 496.7h0M68.4 487.0h0M47.5 500.6h0M56.0 491.1h0M59.0 485.6h0M67.8 490.1h0M46.4 500.5h0M142.7 413.7h0M48.2 498.3h0M48.7 499.6h0M47.5 497.5h0M44.7 502.9h0M53.1 491.8h0M86.7 433.5h0M77.0 486.5h0M46.3 500.3h0M45.4 501.4h0M49.2 497.2h0M86.1 470.9h0M56.6 491.8h0M124.6 455.0h0M70.4 476.6h0M66.8 477.2h0M86.0 469.9h0M83.1 474.8h0M49.9 497.9h0M47.5 499.3h0M53.8 493.1h0M56.7 491.0h0M45.5 501.6h0M54.0 496.6h0M68.7 493.3h0M45.4 501.2h0M45.5 500.3h0M45.9 502.0h0M48.1 499.7h0M142.5 418.2h0M44.3 502.7h0M46.1 500.2h0M45.8 499.8h0M55.8 491.6h0M44.2 502.9h0M54.9 490.8h0M45.8 501.6h0M47.8 496.7h0M90.5 448.2h0M46.1 499.7h0M66.4 484.2h0M52.4 491.4h0M52.9 496.8h0M95.5 448.3h0M45.8 502.6h0M124.8 450.1h0M114.8 428.1h0M71.8 480.0h0M44.5 502.6h0M71.2 487.6h0M64.9 470.4h0M86.8 452.8h0M46.6 500.3h0M137.9 419.1h0M112.7 437.2h0M45.2 500.9h0M49.0 497.5h0M44.4 503.1h0M98.6 456.0h0M121.6 411.6h0M165.1 398.7h0M66.0 484.8h0M71.5 471.1h0M73.0 474.3h0M62.4 481.6h0M137.4 450.3h0M65.6 487.6h0M49.6 495.8h0M58.2 490.2h0M44.2 502.9h0M79.0 440.1h0M74.9 476.2h0M53.0 493.3h0M103.5 456.9h0M83.9 471.3h0M49.7 497.4h0M44.8 502.8h0M45.4 502.7h0M46.1 499.1h0M48.7 498.4h0M54.4 488.4h0M126.4 431.9h0M48.0 498.6h0M116.3 428.4h0M73.2 467.9h0M104.0 464.4h0M52.2 490.9h0M44.0 503.2h0M89.5 455.8h0M47.2 493.7h0M45.5 501.5h0M91.9 425.8h0M73.9 477.3h0M46.6 499.5h0M47.7 499.0h0M131.1 423.5h0M47.7 500.2h0M76.0 480.1h0M45.4 501.6h0M95.1 472.9h0M45.2 502.4h0M58.4 485.9h0M44.4 502.9h0M60.8 490.9h0M102.3 464.3h0M44.9 502.3h0M47.9 499.5h0M85.5 460.8h0M65.6 483.7h0M48.9 493.2h0M67.6 483.5h0M54.7 497.5h0M106.2 445.2h0M48.3 498.5h0M84.3 462.0h0M68.3 489.2h0M81.5 451.1h0M51.2 495.9h0M79.1 469.6h0M75.5 484.7h0M51.6 494.2h0M44.3 502.9h0M143.2 395.6h0M77.5 474.7h0M46.4 501.5h0M80.0 466.8h0M48.0 500.1h0M55.5 490.1h0M105.6 462.0h0M54.4 493.2h0M48.2 499.0h0M48.7 498.2h0M44.8 502.6h0M46.7 501.0h0M47.8 499.1h0M45.9 501.5h0M44.7 502.5h0M55.3 492.8h0M46.6 502.0h0M81.2 467.7h0M124.3 407.4h0M47.8 498.5h0M62.5 481.5h0M57.8 487.5h0M44.8 502.6h0M45.3 502.5h0M112.3 428.6h0M55.8 486.8h0M92.9 447.4h0M44.7 502.4h0M64.4 480.9h0M107.0 447.0h0M107.4 441.8h0M44.1 503.1h0M58.8 487.1h0M50.8 498.0h0M84.7 470.6h0M44.7 502.3h0M47.6 499.6h0M94.6 479.9h0M55.6 491.2h0M54.7 498.0h0M146.8 389.4h0M49.1 496.2h0M44.5 502.6h0M51.7 496.8h0M45.7 502.1h0M44.8 502.5h0M62.2 485.5h0M138.0 438.8h0M63.1 483.8h0M69.4 472.9h0M49.2 496.4h0M62.5 490.3h0M83.4 483.6h0M64.0 483.9h0M92.6 464.9h0M60.8 484.3h0M46.3 498.2h0M63.4 472.0h0M56.8 489.3h0M45.8 500.1h0M66.6 467.1h0M95.5 453.6h0M45.4 501.5h0M60.4 482.3h0M80.5 468.1h0M52.2 496.0h0M47.8 500.0h0M50.9 496.0h0M60.2 490.1h0M74.0 466.0h0M61.5 487.8h0M45.1 501.1h0M95.7 433.0h0M124.8 452.5h0M45.0 501.5h0M47.3 500.0h0M45.9 499.5h0M102.9 440.7h0M120.0 438.4h0M44.5 502.5h0M49.5 498.3h0M46.2 500.3h0M55.5 490.2h0M124.0 437.5h0M44.7 502.4h0M45.9 501.8h0M56.6 488.3h0M58.9 493.1h0M82.3 457.7h0M53.9 491.6h0M45.5 501.0h0M50.2 497.7h0M157.1 376.0h0M83.1 467.4h0M45.2 501.9h0M93.7 464.9h0M48.9 494.7h0M88.4 465.2h0M44.2 502.8h0M108.5 457.9h0M45.8 501.0h0M54.8 493.5h0M71.0 468.2h0M57.9 490.6h0M45.8 501.8h0M45.5 501.3h0M48.1 500.2h0M44.6 502.9h0M46.6 499.1h0M45.4 502.6h0M55.3 488.8h0M50.3 497.3h0M63.7 488.6h0M48.0 498.3h0M44.4 502.6h0M49.5 498.4h0M83.9 465.8h0M47.4 498.0h0M52.3 492.4h0M83.8 464.4h0M52.4 496.4h0M112.9 455.0h0M122.7 444.5h0M48.8 496.5h0M80.8 459.8h0M47.4 498.9h0M45.5 500.3h0M53.9 494.0h0M65.1 484.8h0M129.5 437.2h0M45.6 499.5h0M77.4 485.6h0M55.9 490.0h0M45.4 501.4h0M149.6 417.1h0M75.1 440.6h0M45.3 500.8h0M118.5 424.0h0M45.1 502.5h0M44.9 502.0h0M49.5 497.9h0M130.5 429.4h0M44.4 502.8h0M122.7 442.5h0M65.9 477.1h0M44.7 501.7h0M62.2 478.4h0M55.0 491.2h0M61.9 493.4h0M81.0 451.9h0M73.0 463.4h0M175.7 405.3h0M45.7 501.6h0M94.6 443.4h0M52.6 496.2h0M88.8 445.9h0M114.3 455.4h0M167.8 421.8h0M47.7 499.0h0M54.6 496.2h0M132.7 428.5h0M134.1 418.1h0M51.0 498.3h0M131.5 411.8h0M52.3 495.9h0M51.0 494.4h0M84.1 460.3h0M55.6 492.8h0M54.4 494.1h0M51.5 498.5h0M53.6 495.2h0M45.5 502.0h0M44.6 501.8h0M83.7 449.1h0M61.9 491.4h0M72.2 467.6h0M92.5 452.0h0M46.9 500.2h0M47.0 499.0h0M48.0 497.3h0M48.7 498.9h0M84.8 465.5h0M51.0 495.4h0M49.2 499.1h0M68.3 477.8h0M46.1 500.8h0M45.1 502.4h0M75.3 479.0h0M84.1 459.1h0M48.4 496.5h0M68.3 476.7h0M44.4 502.9h0M52.3 492.3h0M63.0 483.3h0M47.4 498.3h0M50.0 493.8h0M65.7 486.9h0M64.0 484.2h0M45.7 501.7h0M76.6 478.3h0M44.8 501.1h0M147.5 400.8h0M46.4 501.8h0M47.4 498.6h0M46.4 501.0h0M167.1 391.0h0M48.2 498.3h0M65.4 483.1h0M166.1 404.7h0M136.2 419.3h0M44.5 502.7h0M58.8 489.2h0M65.0 483.2h0M76.0 465.9h0M49.6 498.9h0M49.4 497.3h0M44.1 503.1h0M44.4 502.9h0M60.8 482.1h0M44.8 502.8h0M46.4 500.8h0M49.5 498.6h0M44.7 502.3h0M44.3 502.9h0M126.0 431.7h0M53.7 491.9h0M46.4 501.7h0M76.8 465.6h0M44.1 503.1h0M47.2 499.8h0M142.0 424.3h0M116.0 424.5h0M68.3 473.2h0M44.9 501.1h0M49.1 497.3h0M44.3 502.9h0M46.7 500.6h0M44.3 502.7h0M45.3 500.4h0M68.0 476.9h0M45.0 502.4h0M45.7 501.1h0M117.6 433.6h0M49.6 497.0h0M49.5 498.4h0M44.9 503.0h0M91.2 463.0h0M72.7 463.9h0M60.6 485.4h0M66.5 491.8h0M45.0 502.1h0M47.5 501.1h0M63.5 467.8h0M137.3 422.0h0M95.6 467.6h0M68.8 472.0h0M58.6 491.5h0M44.2 502.9h0M114.0 439.9h0M44.7 502.8h0M45.3 501.3h0M74.8 482.7h0M94.5 430.1h0M89.4 456.5h0M54.6 495.2h0M46.0 502.1h0M44.4 502.2h0M103.4 420.4h0M153.4 434.7h0M47.2 496.4h0M107.2 442.2h0M52.2 495.2h0M48.9 498.0h0M57.7 490.4h0M44.1 502.8h0M54.1 492.2h0M46.3 501.9h0M77.4 440.5h0M57.5 485.2h0M107.9 459.0h0M115.7 444.6h0M49.0 499.1h0M48.0 498.6h0M131.1 422.4h0M57.6 488.3h0M45.0 502.4h0M44.5 502.9h0M165.8 393.8h0M63.1 484.7h0M44.6 501.5h0M58.1 492.0h0M57.6 485.6h0M53.7 492.9h0M136.8 437.6h0M135.6 399.5h0M45.3 501.7h0M45.6 501.9h0M52.4 495.2h0M99.3 432.8h0M67.1 487.5h0M79.9 448.7h0M62.9 480.1h0M46.5 500.5h0M95.7 428.8h0M44.2 502.6h0M75.5 465.6h0M46.3 500.4h0M55.6 482.3h0M151.4 391.8h0M60.0 491.0h0M44.6 502.7h0M53.4 494.0h0M70.9 479.7h0M44.6 502.9h0M47.4 497.8h0M44.2 502.9h0M60.1 486.5h0M51.3 491.3h0M57.6 491.5h0M48.4 498.3h0M70.5 474.7h0M45.9 501.3h0M118.8 438.9h0M141.6 408.2h0M56.9 490.0h0M55.3 485.7h0M105.5 456.4h0M48.3 498.0h0M92.6 471.6h0M48.2 498.6h0M78.4 475.4h0M49.6 493.8h0M65.1 477.0h0M125.6 423.7h0M44.6 501.8h0M93.5 428.6h0M60.2 482.9h0M51.2 497.0h0M50.1 499.0h0M44.7 502.5h0M47.5 499.6h0M67.0 484.5h0M45.0 502.3h0M71.9 486.5h0M142.8 393.9h0M155.9 431.7h0M113.5 450.4h0M93.4 445.6h0M46.0 502.0h0M147.8 400.7h0M46.4 499.2h0M108.0 449.0h0M110.3 457.5h0M66.9 483.6h0M58.8 494.7h0M46.4 498.5h0M58.6 488.1h0M48.3 499.5h0M45.3 502.2h0M45.3 501.3h0M92.2 428.2h0M124.3 451.9h0M45.5 501.9h0M44.2 503.2h0M47.6 497.9h0M45.4 501.5h0M46.2 497.1h0M63.5 484.5h0M53.1 494.9h0M53.4 495.3h0M46.5 499.2h0M71.4 486.7h0M48.3 497.0h0M52.0 494.1h0M55.2 493.3h0M118.1 450.8h0M47.2 497.6h0M78.2 442.7h0M48.8 498.6h0M115.1 430.3h0M51.8 489.1h0M57.7 491.7h0M110.2 446.7h0M72.3 483.9h0M45.0 502.3h0M45.4 501.7h0M166.2 414.5h0M44.3 503.0h0M48.6 500.2h0M140.9 443.4h0M44.2 503.1h0M45.8 500.6h0M46.6 500.7h0M44.9 502.6h0M55.7 488.5h0M64.2 479.3h0M49.1 498.9h0M45.1 502.3h0M94.2 443.2h0M92.9 449.2h0M61.7 489.5h0M45.5 501.4h0M60.2 487.0h0M67.6 470.3h0M53.4 495.7h0M106.6 429.5h0M51.7 494.0h0M58.1 492.7h0M45.2 501.2h0M61.8 479.5h0M85.8 475.2h0M80.1 436.6h0M47.5 500.6h0M167.6 421.7h0M78.4 472.0h0M53.2 491.1h0M52.8 492.2h0M88.1 460.0h0M46.0 499.3h0M68.7 475.6h0M78.3 450.5h0M58.4 468.2h0M109.1 440.3h0M55.5 497.9h0M55.3 493.1h0M48.1 500.0h0M123.2 432.7h0M49.0 497.5h0M75.1 482.0h0M52.5 497.0h0M129.4 434.7h0M135.2 430.1h0M44.3 503.1h0M171.3 391.2h0M65.3 481.9h0M44.8 502.4h0M57.2 488.5h0M44.5 502.9h0M60.7 486.7h0M46.1 499.5h0M50.8 493.0h0M48.7 497.1h0M65.1 484.1h0M96.7 463.1h0M129.9 403.1h0M49.4 496.1h0M62.3 487.2h0M44.1 503.2h0M50.9 497.6h0M141.9 450.5h0M45.2 500.9h0M108.2 441.0h0M70.0 482.8h0M48.4 498.7h0M87.9 403.2h0M48.3 495.8h0M115.2 458.4h0M44.8 502.4h0M45.2 502.5h0M83.0 480.4h0M54.4 491.8h0M45.6 498.3h0M58.2 479.5h0M48.5 498.1h0M60.8 488.3h0M82.0 462.5h0M104.8 427.2h0M44.6 502.9h0M64.2 492.1h0M158.6 385.7h0M55.0 490.8h0M86.3 432.3h0M45.0 502.0h0M109.1 413.6h0M63.3 487.3h0M113.3 431.8h0M89.5 428.1h0M108.0 424.9h0M44.6 502.7h0" stroke="#2a6cb8" stroke-width="2.4" stroke-linecap="round" fill="none"/>
<line x1="44.01" y1="503.20" x2="182.24" y2="372.95" stroke="#111" stroke-width="1.1"/>
<rect x="37.5" y="368.15" width="149.8" height="142.1" fill="none" stroke="#e0e0e0" stroke-width="0.7"/>
<g fill="#1a1a1a" stroke="#1a1a1a" stroke-width="0.1"><text transform="translate(44.80,518.63) scale(1,1.045)" font-size="6.9" text-anchor="middle">0</text><text transform="translate(80.85,518.63) scale(1,1.045)" font-size="6.9" text-anchor="middle">5000</text><text transform="translate(116.90,518.63) scale(1,1.045)" font-size="6.9" text-anchor="middle">10,000</text><text transform="translate(152.95,518.63) scale(1,1.045)" font-size="6.9" text-anchor="middle">15,000</text><text transform="translate(34.20,507.33) scale(1,1.045)" font-size="6.9" text-anchor="end">0</text><text transform="translate(34.20,490.35) scale(1,1.045)" font-size="6.9" text-anchor="end">2500</text><text transform="translate(34.20,473.36) scale(1,1.045)" font-size="6.9" text-anchor="end">5000</text><text transform="translate(34.20,456.38) scale(1,1.045)" font-size="6.9" text-anchor="end">7500</text><text transform="translate(34.20,439.39) scale(1,1.045)" font-size="6.9" text-anchor="end">10,000</text><text transform="translate(34.20,422.41) scale(1,1.045)" font-size="6.9" text-anchor="end">12,500</text><text transform="translate(34.20,405.42) scale(1,1.045)" font-size="6.9" text-anchor="end">15,000</text><text transform="translate(34.20,388.44) scale(1,1.045)" font-size="6.9" text-anchor="end">17,500</text><text transform="translate(112.70,531.23) scale(1,1.045)" font-size="6.9" text-anchor="middle">Measured E* (MPa)</text><text transform="translate(9.63,439.50) rotate(-90) scale(1,1.045)" font-size="6.9" text-anchor="middle">Predicted E* (MPa)</text></g>
<path d="M258.65 368.25V510.15M216.0 469.05H365.4M302.58 368.25V510.15M216.0 427.75H365.4M346.51 368.25V510.15M216.0 386.45H365.4" stroke="#ebebeb" stroke-width="0.7" fill="none"/>
<path d="M222.0 492.2h0M358.9 379.0h0M336.9 390.4h0M285.3 439.3h0M294.2 431.6h0M344.6 395.8h0M230.8 495.3h0M340.5 389.9h0M338.6 402.0h0M311.6 416.3h0M294.5 436.6h0M291.7 440.0h0M288.9 432.7h0M309.4 423.6h0M314.9 419.8h0M319.1 415.0h0M357.6 379.3h0M338.2 378.0h0M324.7 418.3h0M356.3 380.6h0M284.0 443.0h0M276.7 442.2h0M324.0 409.0h0M254.5 491.8h0M251.6 462.8h0M315.8 420.4h0M311.4 418.3h0M348.1 392.7h0M325.3 412.0h0M315.8 417.0h0M314.2 410.6h0M288.0 432.1h0M237.7 488.2h0M281.0 440.9h0M330.3 403.0h0M282.1 442.6h0M301.8 425.5h0M228.8 482.7h0M341.2 394.5h0M275.8 451.1h0M290.4 434.4h0M345.1 388.0h0M315.4 419.1h0M342.5 381.3h0M326.1 407.5h0M334.2 392.7h0M265.4 459.6h0M318.1 405.1h0M315.2 427.2h0M344.4 378.7h0M300.9 428.4h0M322.8 415.0h0M258.6 467.4h0M303.7 411.9h0M296.8 427.5h0M275.2 460.0h0M340.1 394.5h0M302.9 417.9h0M354.6 387.1h0M322.2 409.6h0M323.4 409.2h0M326.0 392.6h0M329.0 403.8h0M275.3 441.0h0M309.0 424.1h0M287.0 444.2h0M305.2 417.7h0M266.4 455.3h0M353.2 389.7h0M284.0 437.0h0M328.7 398.8h0M294.2 436.6h0M344.6 387.8h0M327.9 401.6h0M272.4 457.5h0M342.4 393.5h0M350.7 387.5h0M347.0 388.5h0M320.5 417.7h0M274.5 451.9h0M281.1 455.3h0M349.1 385.5h0M319.0 411.8h0M279.5 453.8h0M345.4 384.2h0M326.3 393.7h0M320.5 402.4h0M302.5 433.8h0M306.1 415.5h0M287.0 437.2h0M252.5 473.5h0M344.8 391.7h0M311.6 418.0h0M318.6 403.7h0M296.7 427.4h0M334.9 398.7h0M246.6 483.0h0M302.1 428.7h0M249.3 470.7h0M270.9 441.1h0M353.1 387.1h0M327.5 403.6h0M307.8 423.5h0M316.6 417.8h0M344.5 387.0h0M299.1 425.5h0M322.2 416.7h0M329.6 407.5h0M300.3 420.7h0M316.2 412.0h0M336.0 392.3h0M347.4 389.3h0M275.3 453.5h0M349.6 383.4h0M230.7 491.0h0M335.1 402.6h0M339.6 392.3h0M273.2 446.2h0M306.9 428.0h0M340.0 386.3h0M239.7 476.7h0M325.2 410.8h0M338.2 393.3h0M315.7 414.6h0M332.9 394.7h0M285.4 435.4h0M281.8 453.0h0M301.1 434.9h0M279.3 439.0h0M299.3 427.9h0M351.0 382.7h0M320.8 407.9h0M298.7 419.9h0M290.9 443.4h0M351.4 379.6h0M309.4 424.6h0M354.9 378.9h0M315.9 406.5h0M316.4 421.6h0M346.4 385.7h0M334.3 398.6h0M321.4 410.9h0M307.7 421.2h0M345.0 393.8h0M306.2 428.2h0M348.6 383.2h0M260.8 459.4h0M308.0 424.4h0M316.2 422.1h0M351.3 376.7h0M288.4 430.2h0M339.3 390.6h0M329.0 408.0h0M332.2 402.3h0M325.3 404.3h0M353.7 386.2h0M297.8 420.1h0M304.8 423.1h0M282.4 440.4h0M256.5 478.6h0M283.7 448.1h0M348.0 390.2h0M342.0 389.3h0M269.2 459.3h0M323.3 409.2h0M312.6 415.2h0M322.5 407.0h0M327.7 395.0h0M294.9 433.4h0M352.4 387.5h0M311.4 418.2h0M325.2 397.5h0M325.8 408.4h0M279.9 445.5h0M259.2 470.8h0M306.2 420.4h0M335.9 393.9h0M340.0 396.5h0M333.3 399.3h0M269.3 449.9h0M347.8 381.7h0M339.0 387.7h0M344.9 384.4h0M316.6 415.4h0M348.0 388.2h0M255.3 463.5h0M249.2 485.1h0M243.8 480.2h0M288.6 449.7h0M288.1 440.3h0M280.4 450.3h0M320.3 417.1h0M252.9 468.1h0M322.2 412.7h0M277.5 451.1h0M329.1 403.5h0M244.3 485.3h0M295.4 423.0h0M350.1 387.2h0M317.9 411.3h0M339.7 399.4h0M327.6 406.2h0M323.8 408.9h0M280.9 446.9h0M320.9 413.0h0M253.1 471.5h0M338.9 384.2h0M352.3 384.0h0M343.1 390.7h0M256.5 473.3h0M298.5 414.1h0M296.2 421.2h0M269.2 452.9h0M325.1 401.9h0M338.6 397.0h0M295.7 432.5h0M343.8 388.4h0M338.6 392.4h0M272.0 460.7h0M336.2 399.6h0M345.3 385.9h0M281.7 441.7h0M320.8 421.7h0M326.0 404.5h0M323.7 400.0h0M266.3 465.3h0M327.8 401.9h0M325.5 413.8h0M340.7 387.2h0M339.1 398.9h0M297.2 437.8h0M332.6 400.4h0M344.1 377.9h0M346.1 390.7h0M276.8 458.2h0M247.4 473.2h0M327.0 402.8h0M283.9 430.0h0M320.0 417.7h0M350.7 391.4h0M302.9 427.4h0M288.6 434.8h0M310.5 416.8h0M327.5 397.4h0M267.2 470.9h0M303.0 430.2h0M272.7 454.5h0M327.9 398.4h0M341.2 388.7h0M302.6 428.2h0M302.1 432.1h0M318.0 407.3h0M284.0 434.9h0M288.0 419.8h0M297.5 431.1h0M310.6 409.6h0M263.5 472.9h0M335.1 399.3h0M321.3 413.2h0M294.1 435.7h0M262.7 471.1h0M335.9 398.5h0M272.3 454.3h0M272.6 456.9h0M272.2 449.1h0M263.4 464.0h0M347.2 387.1h0M290.6 426.2h0M294.9 430.2h0M341.4 390.3h0M324.6 406.5h0M280.4 444.9h0M308.4 417.4h0M345.4 392.2h0M302.4 419.5h0M331.7 390.5h0M266.4 451.3h0M333.0 401.0h0M336.9 403.4h0M340.8 393.8h0M328.8 401.4h0M302.0 421.6h0M259.8 468.7h0M316.2 415.6h0M335.4 387.3h0M280.8 449.5h0M290.3 429.1h0M317.7 407.4h0M334.7 404.1h0M346.4 386.3h0M271.4 459.0h0M280.0 452.5h0M338.8 403.2h0M326.5 413.4h0M332.5 396.3h0M357.9 380.7h0M350.1 383.9h0M342.2 396.0h0M337.0 396.2h0M304.5 425.7h0M326.2 413.5h0M280.0 457.5h0M335.6 393.2h0M335.4 395.0h0M332.6 403.9h0M309.4 420.4h0M302.7 422.0h0M307.0 411.6h0M250.7 481.7h0M342.3 387.3h0M318.2 400.1h0M303.7 424.5h0M318.7 403.3h0M332.6 413.3h0M303.1 417.2h0M341.2 391.3h0M348.3 394.7h0M303.7 420.4h0M273.3 445.0h0M335.7 388.8h0M357.0 377.3h0M274.9 451.4h0M331.9 403.5h0M340.8 394.0h0M348.4 386.4h0M271.0 452.2h0M265.5 464.9h0M356.1 380.5h0M269.9 449.8h0M279.0 444.5h0M320.9 396.6h0M309.5 407.5h0M334.9 402.9h0M280.8 448.8h0M347.9 392.5h0M284.2 449.2h0M336.4 391.9h0M260.5 474.4h0M312.1 423.4h0M250.3 476.9h0M295.7 426.6h0M295.6 433.8h0M332.4 400.8h0M310.4 413.8h0M258.0 465.1h0M357.6 378.1h0M345.8 383.5h0M348.1 391.1h0M287.9 436.5h0M304.4 427.8h0M285.5 432.9h0M271.3 448.9h0M250.5 483.0h0M314.8 407.5h0M271.0 464.1h0M278.9 438.5h0M343.6 388.6h0M313.1 421.5h0M279.9 453.8h0M328.5 404.3h0M290.2 436.2h0M316.9 417.3h0M292.2 430.8h0M315.9 422.0h0M325.2 405.8h0M317.7 412.5h0M304.5 434.8h0M338.1 391.7h0M344.6 395.1h0M279.3 464.3h0M273.1 457.6h0M269.3 458.8h0M354.7 378.3h0M350.4 387.0h0M285.9 429.5h0M353.5 377.7h0M283.0 434.8h0M315.1 407.3h0M314.3 413.5h0M347.9 389.1h0M253.4 467.2h0M295.9 425.4h0M323.0 406.5h0M260.3 468.7h0M286.7 449.7h0M311.3 414.3h0M345.2 386.8h0M335.7 403.0h0M341.1 390.8h0M335.7 391.5h0M331.5 400.3h0M342.7 386.2h0M329.4 397.4h0M333.7 406.0h0M294.4 434.5h0M277.7 444.6h0M335.4 390.7h0M277.4 438.2h0M348.3 395.0h0M322.7 408.5h0M297.5 425.7h0M349.9 379.9h0M275.9 437.6h0M315.8 419.5h0M265.4 464.2h0M352.9 387.2h0M321.0 404.9h0M339.1 400.1h0M292.1 426.9h0M338.9 387.6h0M331.1 397.3h0M326.4 417.0h0M351.3 387.1h0M308.3 416.5h0M306.5 430.5h0M330.3 402.3h0M341.6 391.5h0M298.1 424.2h0M328.5 401.0h0M283.2 440.4h0M319.0 413.9h0M336.4 394.9h0M260.0 468.1h0M333.1 394.0h0M240.6 483.4h0M352.1 379.4h0M311.7 427.5h0M305.9 416.1h0M332.5 399.7h0M316.6 407.1h0M333.3 397.4h0M264.1 455.9h0M319.9 402.0h0M319.5 414.1h0M349.5 385.2h0M253.1 474.1h0M310.2 418.0h0M325.4 414.8h0M318.9 412.4h0M262.0 467.0h0M322.4 412.8h0M284.9 441.9h0M281.5 455.1h0M345.0 381.8h0M281.8 440.7h0M310.3 408.3h0M334.9 401.4h0M331.5 406.4h0M319.1 409.6h0M339.4 401.8h0M311.4 416.8h0M324.6 410.4h0M340.3 393.7h0M329.2 400.5h0M326.3 404.5h0M305.6 412.6h0M319.5 407.3h0M304.6 431.5h0M334.4 391.3h0M303.0 433.2h0M311.5 417.5h0M335.3 403.2h0M314.8 419.8h0M298.4 421.4h0M340.9 394.4h0M303.0 429.2h0M342.3 393.4h0M337.6 395.6h0M309.6 411.4h0M331.9 406.1h0M251.1 484.3h0M304.0 421.4h0M343.6 397.7h0M321.3 411.4h0M319.5 404.5h0M328.1 403.0h0M329.1 404.8h0M321.6 413.1h0M307.1 427.2h0M279.9 450.1h0M293.3 432.7h0M293.4 425.6h0M308.1 415.6h0M358.5 380.8h0M300.0 432.4h0M309.7 415.7h0M302.0 436.8h0M321.5 411.8h0M351.0 385.9h0M345.8 393.4h0M302.6 431.6h0M290.3 433.8h0M345.5 396.4h0M313.9 421.1h0M329.7 405.2h0M261.8 464.7h0M344.1 396.2h0M295.6 425.0h0M314.0 417.7h0M281.8 445.8h0M307.0 424.1h0M341.0 395.1h0M341.0 396.8h0M312.1 411.0h0M336.3 394.1h0M310.7 419.5h0M302.2 420.6h0M318.5 416.0h0M282.2 439.1h0M296.1 431.3h0M331.4 405.1h0M336.5 390.7h0M258.0 481.4h0M333.5 394.3h0M340.2 397.0h0M309.4 417.7h0M259.4 456.8h0M329.5 398.6h0M287.8 442.3h0M326.4 405.0h0M302.6 428.2h0M325.9 412.0h0M289.3 444.4h0M312.4 417.2h0M316.7 410.6h0M325.4 415.9h0M282.4 443.9h0M352.5 381.5h0M292.9 433.4h0M294.9 438.8h0M289.1 430.5h0M260.5 476.7h0M307.3 418.3h0M336.6 386.0h0M331.6 411.5h0M281.5 442.7h0M273.2 451.0h0M296.6 429.8h0M336.3 399.7h0M313.4 418.4h0M348.7 392.6h0M327.4 403.2h0M324.6 403.6h0M336.2 399.2h0M334.9 402.0h0M299.1 431.9h0M289.1 437.4h0M308.7 420.4h0M313.5 417.1h0M273.9 452.1h0M309.1 427.9h0M326.1 420.8h0M273.0 449.0h0M273.4 442.7h0M278.5 457.9h0M292.3 439.0h0M352.5 382.4h0M247.0 470.1h0M279.9 441.6h0M277.3 439.8h0M312.2 418.1h0M240.3 479.3h0M310.7 416.8h0M277.0 452.5h0M290.7 428.3h0M338.2 390.2h0M279.9 439.3h0M324.3 409.2h0M305.6 417.7h0M306.8 428.5h0M340.1 390.2h0M276.8 468.6h0M348.7 390.8h0M346.2 384.6h0M328.4 405.7h0M256.1 469.5h0M328.0 412.7h0M323.0 399.5h0M336.6 391.8h0M283.8 442.3h0M351.6 382.6h0M345.6 387.0h0M269.5 446.7h0M295.9 430.5h0M250.3 487.3h0M341.2 392.9h0M347.9 381.1h0M356.4 378.7h0M323.9 409.8h0M328.2 399.8h0M329.2 401.7h0M320.5 407.0h0M351.5 390.9h0M323.6 412.8h0M298.2 425.9h0M315.6 416.0h0M242.8 478.1h0M332.8 387.8h0M330.4 402.9h0M307.1 420.9h0M342.9 393.3h0M335.3 400.0h0M298.3 430.3h0M262.7 476.2h0M272.4 469.9h0M280.0 436.5h0M294.6 433.5h0M309.7 413.6h0M349.1 385.6h0M291.7 434.3h0M346.6 384.7h0M329.3 398.1h0M343.0 396.4h0M305.3 417.0h0M228.1 496.6h0M337.8 392.9h0M287.8 421.5h0M274.0 452.0h0M338.8 384.1h0M329.8 403.7h0M283.6 438.1h0M290.4 436.0h0M350.1 383.6h0M290.5 441.8h0M331.1 405.7h0M272.0 452.2h0M340.0 400.9h0M270.1 463.2h0M315.9 410.8h0M251.4 479.4h0M318.8 416.9h0M342.5 396.4h0M264.0 462.1h0M291.2 438.0h0M336.0 394.9h0M323.6 408.7h0M295.6 420.7h0M325.3 408.6h0M310.3 430.4h0M343.7 389.3h0M293.4 433.9h0M335.5 395.4h0M325.8 414.7h0M334.1 391.2h0M302.7 426.3h0M332.9 399.0h0M330.8 409.7h0M303.7 422.6h0M247.3 478.1h0M352.6 378.2h0M332.0 402.0h0M282.7 451.9h0M333.3 397.6h0M291.7 441.1h0M311.7 415.8h0M343.5 395.4h0M309.7 420.7h0M292.8 435.8h0M294.8 432.9h0M262.6 468.9h0M284.5 446.9h0M290.8 436.4h0M278.4 452.0h0M259.5 466.9h0M311.4 420.0h0M283.9 457.5h0M334.0 398.0h0M348.6 380.3h0M291.0 433.9h0M320.7 406.9h0M315.1 412.6h0M262.2 469.0h0M271.3 465.5h0M345.5 384.7h0M312.2 411.9h0M339.2 389.9h0M260.3 463.9h0M322.5 406.4h0M344.0 389.8h0M344.1 388.2h0M231.4 487.0h0M316.4 412.2h0M301.8 432.3h0M335.6 399.6h0M261.8 461.2h0M290.1 438.8h0M339.8 405.6h0M311.7 417.5h0M310.2 432.3h0M353.3 377.2h0M296.4 427.0h0M253.8 467.3h0M304.2 428.5h0M275.7 458.9h0M263.5 465.4h0M320.3 410.4h0M351.6 387.4h0M321.3 408.8h0M326.7 400.9h0M296.8 427.4h0M320.6 416.1h0M335.0 408.7h0M322.1 409.0h0M339.0 396.7h0M318.9 409.3h0M281.8 432.9h0M321.6 400.3h0M313.7 414.8h0M277.5 441.0h0M324.5 397.7h0M340.1 392.1h0M272.9 451.7h0M318.4 407.5h0M333.6 398.2h0M305.3 426.6h0M290.7 440.8h0M302.1 426.5h0M318.1 415.9h0M329.8 397.2h0M319.6 413.0h0M268.3 447.7h0M340.2 385.8h0M348.7 391.7h0M267.2 451.6h0M288.2 440.7h0M278.5 438.0h0M342.7 387.9h0M347.5 387.3h0M254.6 466.6h0M297.8 433.3h0M281.1 442.6h0M311.7 415.9h0M348.5 387.0h0M261.1 463.2h0M278.2 454.9h0M313.3 413.5h0M316.6 420.4h0M334.5 393.6h0M308.7 418.1h0M273.8 447.5h0M300.1 431.3h0M355.1 375.2h0M334.9 397.9h0M269.9 455.7h0M339.4 396.7h0M295.4 423.4h0M337.3 396.8h0M238.5 475.5h0M344.4 393.7h0M277.0 447.0h0M310.4 421.1h0M327.9 398.3h0M315.2 416.5h0M277.4 454.8h0M273.5 449.6h0M292.4 441.8h0M256.9 477.5h0M284.2 436.3h0M272.1 467.9h0M311.3 414.1h0M300.4 430.0h0M321.9 413.9h0M292.0 433.2h0M250.9 469.5h0M297.7 433.4h0M335.2 397.1h0M289.0 432.1h0M305.5 419.3h0M335.2 396.4h0M305.7 427.4h0M345.7 392.6h0M348.2 389.1h0M295.4 427.8h0M333.7 394.4h0M288.7 435.5h0M273.6 442.7h0M308.7 422.1h0M323.2 409.8h0M349.8 386.9h0M274.6 438.0h0M331.9 410.6h0M312.3 415.7h0M272.4 450.7h0M353.8 382.2h0M330.6 387.9h0M271.9 445.9h0M347.2 383.7h0M267.6 465.6h0M265.6 457.3h0M297.7 432.0h0M350.0 384.9h0M250.5 473.0h0M348.2 388.5h0M323.9 403.6h0M260.4 454.0h0M320.4 404.4h0M310.7 417.4h0M320.0 420.9h0M333.8 391.5h0M329.2 396.0h0M358.0 379.9h0M276.1 453.1h0M339.8 388.7h0M306.1 427.1h0M337.5 389.5h0M346.0 392.7h0M356.8 383.2h0M290.2 435.9h0M310.2 427.0h0M350.5 384.7h0M350.8 382.4h0M302.2 433.3h0M350.2 381.1h0M305.6 426.1h0M302.4 422.9h0M335.4 394.7h0M311.9 420.0h0M309.7 422.3h0M303.6 434.1h0M308.3 424.5h0M273.6 457.8h0M259.0 455.2h0M335.2 390.5h0M320.1 417.7h0M328.7 398.0h0M339.0 391.5h0M285.9 442.0h0M286.3 436.1h0M291.6 429.9h0M294.6 435.7h0M335.7 397.0h0M302.3 425.0h0M296.8 436.2h0M325.9 404.0h0M280.3 445.8h0M268.2 463.1h0M330.7 404.9h0M335.3 394.2h0M293.8 427.7h0M325.8 403.3h0M251.0 480.6h0M305.4 419.1h0M321.2 408.4h0M288.7 433.4h0M299.5 421.7h0M323.7 411.9h0M322.1 409.2h0M275.8 454.2h0M331.4 404.4h0M263.2 448.3h0M353.4 379.1h0M282.3 454.8h0M288.7 434.4h0M282.1 447.0h0M356.7 377.4h0M292.6 433.4h0M323.4 408.2h0M356.6 379.8h0M351.2 382.6h0M254.0 471.5h0M316.4 414.7h0M323.1 408.3h0M331.1 397.2h0M298.2 435.7h0M297.3 430.0h0M229.5 488.2h0M251.5 477.4h0M318.8 407.3h0M262.3 474.1h0M282.4 445.4h0M297.9 434.4h0M261.2 461.4h0M249.5 478.7h0M349.0 385.5h0M308.5 418.4h0M282.7 453.3h0M331.6 397.0h0M235.4 490.1h0M287.7 439.6h0M352.4 383.7h0M346.5 383.8h0M325.8 401.1h0M265.7 447.6h0M296.2 429.9h0M248.1 479.9h0M284.5 444.0h0M246.8 472.1h0M271.5 443.1h0M325.6 403.4h0M267.1 463.5h0M276.0 447.8h0M346.9 386.0h0M298.1 429.1h0M297.9 433.8h0M264.5 481.0h0M338.5 395.8h0M329.0 396.2h0M318.6 410.4h0M324.4 418.3h0M267.1 459.2h0M289.5 448.0h0M321.6 398.1h0M351.5 383.2h0M340.1 398.0h0M326.2 400.4h0M316.2 417.9h0M240.4 477.5h0M346.0 387.7h0M260.4 475.4h0M272.0 449.3h0M330.3 407.9h0M339.8 385.1h0M337.7 393.1h0M310.1 424.6h0M279.0 458.9h0M251.5 461.1h0M342.9 382.9h0M354.5 386.3h0M287.6 427.5h0M344.0 388.3h0M305.3 424.5h0M295.5 432.0h0M315.0 416.2h0M234.1 473.9h0M309.2 419.0h0M282.0 455.7h0M331.9 387.9h0M314.7 410.2h0M344.2 394.1h0M346.4 389.1h0M296.1 436.3h0M291.9 434.2h0M350.1 383.3h0M314.9 413.5h0M266.4 464.4h0M255.1 477.1h0M356.5 377.9h0M321.3 409.7h0M257.4 451.8h0M315.5 418.6h0M314.9 410.6h0M308.5 420.2h0M351.4 387.1h0M351.1 378.8h0M271.3 453.9h0M275.4 456.6h0M305.8 424.6h0M341.5 385.8h0M324.9 412.6h0M333.2 390.4h0M321.0 405.7h0M283.3 443.8h0M340.2 384.8h0M239.5 468.7h0M330.8 397.0h0M281.3 442.9h0M311.9 407.5h0M354.1 377.6h0M317.9 417.1h0M258.1 470.3h0M307.9 422.2h0M327.7 405.4h0M258.0 480.3h0M288.6 431.5h0M242.6 479.7h0M318.0 411.5h0M303.1 417.6h0M314.8 417.9h0M293.7 433.3h0M327.5 401.9h0M278.5 450.1h0M347.2 387.4h0M352.3 380.4h0M313.9 415.8h0M311.3 410.7h0M343.5 393.1h0M293.0 432.3h0M339.0 400.1h0M292.7 434.5h0M332.5 402.4h0M298.0 421.7h0M323.2 403.4h0M348.9 383.6h0M257.4 454.8h0M339.4 384.7h0M318.2 408.0h0M302.8 429.2h0M299.8 436.1h0M260.9 466.0h0M289.3 438.8h0M324.8 409.5h0M266.6 461.9h0M328.5 411.5h0M352.5 377.9h0M354.9 385.5h0M345.8 390.9h0M339.3 389.4h0M279.1 457.6h0M353.5 379.1h0M282.4 436.6h0M344.3 390.5h0M345.0 393.5h0M324.7 408.7h0M316.4 423.6h0M282.1 433.9h0M316.2 413.3h0M293.1 438.0h0M271.4 461.2h0M271.8 450.1h0M338.9 384.7h0M348.6 391.5h0M273.9 456.0h0M238.9 496.3h0M289.9 431.8h0M272.8 452.0h0M280.6 429.4h0M321.6 409.5h0M307.2 424.0h0M307.9 424.9h0M282.8 436.8h0M328.1 411.7h0M293.0 429.0h0M304.9 422.3h0M311.2 420.9h0M347.1 391.1h0M287.9 431.0h0M332.4 388.5h0M295.2 434.4h0M346.3 385.2h0M304.4 414.5h0M315.0 418.1h0M344.9 389.7h0M328.7 408.9h0M266.0 461.5h0M273.2 453.3h0M356.6 381.6h0M248.7 481.5h0M294.3 442.1h0M352.2 388.7h0M240.3 489.5h0M276.8 444.4h0M283.8 444.9h0M264.4 468.5h0M312.0 413.8h0M322.4 405.1h0M296.2 435.4h0M268.5 462.3h0M339.7 388.6h0M339.1 390.5h0M319.9 415.0h0M273.3 450.9h0M318.2 412.1h0M325.3 399.4h0M307.8 425.8h0M343.8 385.0h0M304.0 422.1h0M315.5 419.8h0M269.5 448.9h0M320.0 405.3h0M336.1 402.3h0M333.4 386.8h0M289.1 444.1h0M356.8 383.2h0M332.5 400.4h0M307.4 417.2h0M306.5 419.0h0M337.2 394.5h0M278.8 437.2h0M326.1 402.5h0M332.4 391.0h0M315.9 398.3h0M344.6 387.8h0M311.7 431.9h0M311.3 420.5h0M292.4 440.7h0M348.3 385.8h0M296.0 430.5h0M330.5 407.3h0M305.9 429.1h0M349.8 386.3h0M351.0 385.1h0M249.1 496.1h0M357.4 377.5h0M323.4 407.1h0M261.9 464.9h0M314.2 413.7h0M256.1 478.3h0M318.7 411.7h0M280.1 438.1h0M301.7 420.4h0M294.7 429.3h0M323.1 409.1h0M340.6 395.8h0M349.9 379.5h0M297.4 426.8h0M320.5 412.2h0M231.6 501.0h0M302.1 431.0h0M352.4 391.0h0M270.3 446.5h0M344.3 388.0h0M327.1 407.9h0M293.5 434.9h0M337.1 379.5h0M292.9 426.0h0M346.3 393.9h0M263.7 463.8h0M270.3 465.1h0M334.8 406.0h0M309.8 418.3h0M274.8 433.3h0M315.7 405.3h0M293.8 432.6h0M318.8 413.5h0M334.3 395.6h0M343.3 384.4h0M258.6 480.1h0M322.3 418.8h0M355.4 376.6h0M310.8 416.8h0M336.4 385.7h0M266.5 458.0h0M344.6 381.5h0M321.5 412.4h0M345.8 385.5h0M337.8 384.6h0M344.3 383.9h0M258.1 472.3h0" stroke="#2a6cb8" stroke-width="2.4" stroke-linecap="round" fill="none"/>
<line x1="222.01" y1="503.49" x2="358.94" y2="374.76" stroke="#111" stroke-width="1.1"/>
<rect x="216.0" y="368.25" width="149.4" height="141.9" fill="none" stroke="#e0e0e0" stroke-width="0.7"/>
<g fill="#1a1a1a" stroke="#1a1a1a" stroke-width="0.1"><text transform="translate(259.25,522.18) scale(1,1.045)" font-size="6.9" text-anchor="middle">10<tspan font-size="5.0" dy="-4.6">2</tspan></text><text transform="translate(212.50,474.28) scale(1,1.045)" font-size="6.9" text-anchor="end">10<tspan font-size="5.0" dy="-4.6">2</tspan></text><text transform="translate(303.18,522.18) scale(1,1.045)" font-size="6.9" text-anchor="middle">10<tspan font-size="5.0" dy="-4.6">3</tspan></text><text transform="translate(212.50,432.98) scale(1,1.045)" font-size="6.9" text-anchor="end">10<tspan font-size="5.0" dy="-4.6">3</tspan></text><text transform="translate(347.11,522.18) scale(1,1.045)" font-size="6.9" text-anchor="middle">10<tspan font-size="5.0" dy="-4.6">4</tspan></text><text transform="translate(212.50,391.68) scale(1,1.045)" font-size="6.9" text-anchor="end">10<tspan font-size="5.0" dy="-4.6">4</tspan></text><text transform="translate(291.30,533.03) scale(1,1.045)" font-size="6.9" text-anchor="middle">Log Measured E* (MPa)</text><text transform="translate(196.63,438.80) rotate(-90) scale(1,1.045)" font-size="6.9" text-anchor="middle">Log Predicted E* (MPa)</text></g>
<rect x="40.4" y="371.4" width="53.8" height="31.7" rx="1" fill="#fff" fill-opacity="0.85" stroke="#e0e0e0" stroke-width="0.6"/>
<line x1="42.2" y1="382.65" x2="51.7" y2="382.65" stroke="#222" stroke-width="0.8"/>
<g fill="#444"><text transform="translate(66.80,377.07) scale(1,1.1)" font-size="5.1" text-anchor="middle">Arithmetic Scale</text><text transform="translate(56.30,384.87) scale(1,1.1)" font-size="5.1">Equality line</text><text transform="translate(56.30,393.07) scale(1,1.1)" font-size="5.1"><tspan font-style="italic" font-size="5.6">R</tspan><tspan font-size="3.8" dy="-2.4">2</tspan><tspan dy="2.4"> = 0.898</tspan></text><text transform="translate(56.30,401.07) scale(1,1.1)" font-size="5.1">N = 1128 records</text></g>
<rect x="218.4" y="371.4" width="53.8" height="31.7" rx="1" fill="#fff" fill-opacity="0.85" stroke="#e0e0e0" stroke-width="0.6"/>
<line x1="220.2" y1="382.65" x2="229.7" y2="382.65" stroke="#222" stroke-width="0.8"/>
<g fill="#444"><text transform="translate(244.80,377.07) scale(1,1.1)" font-size="5.1" text-anchor="middle">Logarithmic Scale</text><text transform="translate(234.30,384.87) scale(1,1.1)" font-size="5.1">Equality line</text><text transform="translate(234.30,393.07) scale(1,1.1)" font-size="5.1"><tspan font-style="italic" font-size="5.6">R</tspan><tspan font-size="3.8" dy="-2.4">2</tspan><tspan dy="2.4"> = 0.95</tspan></text><text transform="translate(234.30,401.07) scale(1,1.1)" font-size="5.1">N = 1128 records</text></g>
<text x="185.0" y="545.00" font-size="8.7" font-weight="bold" text-anchor="middle" fill="#111">(c)</text>
</svg>
</body></html>
